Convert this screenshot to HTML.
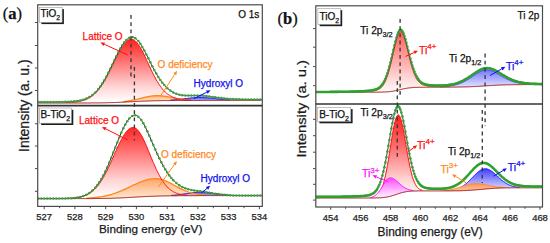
<!DOCTYPE html><html><head><meta charset="utf-8"><style>
html,body{margin:0;padding:0;background:#fff;width:550px;height:243px;overflow:hidden}
svg{display:block;font-family:"Liberation Sans", sans-serif}
</style></head><body>
<svg width="550" height="243" viewBox="0 0 550 243">
<defs><linearGradient id="glatt" gradientUnits="userSpaceOnUse" x1="0" y1="40" x2="0" y2="102"><stop offset="0" stop-color="#ff2424"/><stop offset="0.35" stop-color="#ff7474"/><stop offset="0.75" stop-color="#ffd4d4"/><stop offset="1" stop-color="#ffffff"/></linearGradient><linearGradient id="gdeft" gradientUnits="userSpaceOnUse" x1="0" y1="95" x2="0" y2="102"><stop offset="0" stop-color="#ff8a2a"/><stop offset="1" stop-color="#ffd8b0"/></linearGradient><linearGradient id="ghydt" gradientUnits="userSpaceOnUse" x1="0" y1="97" x2="0" y2="102"><stop offset="0" stop-color="#5050ff"/><stop offset="1" stop-color="#d8d8ff"/></linearGradient><linearGradient id="glatb" gradientUnits="userSpaceOnUse" x1="0" y1="127" x2="0" y2="198"><stop offset="0" stop-color="#ff2424"/><stop offset="0.35" stop-color="#ff7474"/><stop offset="0.75" stop-color="#ffd4d4"/><stop offset="1" stop-color="#ffffff"/></linearGradient><linearGradient id="gdefb" gradientUnits="userSpaceOnUse" x1="0" y1="179" x2="0" y2="198"><stop offset="0" stop-color="#ff8a2a"/><stop offset="1" stop-color="#ffd8b0"/></linearGradient><linearGradient id="ghydb" gradientUnits="userSpaceOnUse" x1="0" y1="192" x2="0" y2="198"><stop offset="0" stop-color="#5050ff"/><stop offset="1" stop-color="#d8d8ff"/></linearGradient><linearGradient id="gb_r1" gradientUnits="userSpaceOnUse" x1="0" y1="30" x2="0" y2="90"><stop offset="0" stop-color="#ff5a5a"/><stop offset="0.5" stop-color="#ffa8a8"/><stop offset="1" stop-color="#fff6f6"/></linearGradient><linearGradient id="gb_b1" gradientUnits="userSpaceOnUse" x1="0" y1="69" x2="0" y2="88"><stop offset="0" stop-color="#7070ff"/><stop offset="1" stop-color="#e8e8ff"/></linearGradient><linearGradient id="gb_r2" gradientUnits="userSpaceOnUse" x1="0" y1="114" x2="0" y2="194"><stop offset="0" stop-color="#ff2020"/><stop offset="0.4" stop-color="#ff6a6a"/><stop offset="0.8" stop-color="#ffd0d0"/><stop offset="1" stop-color="#fff8f8"/></linearGradient><linearGradient id="gb_m2" gradientUnits="userSpaceOnUse" x1="0" y1="175" x2="0" y2="195"><stop offset="0" stop-color="#ff30ff"/><stop offset="1" stop-color="#ffe0ff"/></linearGradient><linearGradient id="gb_b2" gradientUnits="userSpaceOnUse" x1="0" y1="168" x2="0" y2="189"><stop offset="0" stop-color="#3a3aff"/><stop offset="1" stop-color="#d8d8ff"/></linearGradient><linearGradient id="gb_o2" gradientUnits="userSpaceOnUse" x1="0" y1="181" x2="0" y2="189"><stop offset="0" stop-color="#ff8040"/><stop offset="1" stop-color="#ffb890"/></linearGradient></defs>
<clipPath id="cat"><rect x="37.7" y="4.8" width="224.60000000000002" height="100.8"/></clipPath>
<clipPath id="cab"><rect x="37.7" y="105.6" width="224.60000000000002" height="100.80000000000001"/></clipPath>
<g clip-path="url(#cat)"><path d="M38.3,103 39.3,103 40.3,103 41.3,103 42.3,103 43.3,103 44.3,103 45.3,103 46.3,103 47.3,103 48.3,103 49.3,103 50.3,103 51.3,103 52.3,103 53.3,103 54.3,103 55.3,103 56.3,103 57.3,103 58.3,103 59.3,103 60.3,103 61.3,103 62.3,103 63.3,103 64.3,103 65.3,103 66.3,103 67.3,103 68.3,103 69.3,103 70.3,103 71.3,103 72.3,103 73.3,103 74.3,103 75.3,103 76.3,103 77.3,103 78.3,103 79.3,103 80.3,103 81.3,103 82.3,103 83.3,103 84.3,103 85.3,103 86.3,103 87.3,103 88.3,103 89.3,103 90.3,103 91.3,102.9 92.3,102.9 93.3,102.9 94.3,102.9 95.3,102.9 96.3,102.9 97.3,102.9 98.3,102.9 99.3,102.9 100.3,102.9 101.3,102.9 102.3,102.8 103.3,102.8 104.3,102.8 105.3,102.8 106.3,102.8 107.3,102.7 108.3,102.7 109.3,102.7 110.3,102.7 111.3,102.6 112.3,102.6 113.3,102.6 114.3,102.5 115.3,102.5 116.3,102.5 117.3,102.4 118.3,102.4 119.3,102.3 120.3,102.3 121.3,102.2 122.3,102.2 123.3,102.1 124.3,102.1 125.3,102 126.3,102 127.3,101.9 128.3,101.9 129.3,101.8 130.3,101.8 131.3,101.7 132.3,101.7 133.3,101.6 134.3,101.6 135.3,101.5 136.3,101.5 137.3,101.4 138.3,101.4 139.3,101.3 140.3,101.3 141.3,101.2 142.3,101.2 143.3,101.1 144.3,101.1 145.3,101.1 146.3,101 147.3,101 148.3,100.9 149.3,100.9 150.3,100.9 151.3,100.8 152.3,100.8 153.3,100.8 154.3,100.8 155.3,100.7 156.3,100.7 157.3,100.7 158.3,100.6 159.3,100.6 160.3,100.6 161.3,100.5 162.3,100.5 163.3,100.5 164.3,100.4 165.3,100.4 166.3,100.3 167.3,100.3 168.3,100.2 169.3,100.2 170.3,100.1 171.3,100.1 172.3,100 173.3,99.9 174.3,99.8 175.3,99.8 176.3,99.7 177.3,99.6 178.3,99.5 179.3,99.4 180.3,99.2 181.3,99.1 182.3,99 183.3,98.9 184.3,98.8 185.3,98.6 186.3,98.5 187.3,98.4 188.3,98.3 189.3,98.2 190.3,98 191.3,97.9 192.3,97.8 193.3,97.8 194.3,97.7 195.3,97.6 196.3,97.6 197.3,97.5 198.3,97.5 199.3,97.5 200.3,97.5 201.3,97.5 202.3,97.5 203.3,97.5 204.3,97.6 205.3,97.6 206.3,97.7 207.3,97.8 208.3,97.9 209.3,98 210.3,98.1 211.3,98.2 212.3,98.3 213.3,98.4 214.3,98.5 215.3,98.6 216.3,98.8 217.3,98.9 218.3,99 219.3,99.1 220.3,99.2 221.3,99.3 222.3,99.4 223.3,99.5 224.3,99.6 225.3,99.7 226.3,99.8 227.3,99.8 228.3,99.9 229.3,100 230.3,100 231.3,100.1 232.3,100.1 233.3,100.1 234.3,100.2 235.3,100.2 236.3,100.2 237.3,100.3 238.3,100.3 239.3,100.3 240.3,100.3 241.3,100.3 242.3,100.3 243.3,100.4 244.3,100.4 245.3,100.4 246.3,100.4 247.3,100.4 248.3,100.4 249.3,100.4 250.3,100.4 251.3,100.4 252.3,100.4 253.3,100.4 254.3,100.4 255.3,100.4 256.3,100.4 257.3,100.4 258.3,100.4 259.3,100.4 260.3,100.4 261.3,100.4 261.7,100.4 L261.7,100.4 261.3,100.4 260.3,100.4 259.3,100.4 258.3,100.4 257.3,100.4 256.3,100.4 255.3,100.4 254.3,100.4 253.3,100.4 252.3,100.4 251.3,100.4 250.3,100.4 249.3,100.4 248.3,100.4 247.3,100.4 246.3,100.4 245.3,100.4 244.3,100.4 243.3,100.4 242.3,100.4 241.3,100.4 240.3,100.4 239.3,100.4 238.3,100.4 237.3,100.4 236.3,100.4 235.3,100.4 234.3,100.4 233.3,100.4 232.3,100.4 231.3,100.4 230.3,100.4 229.3,100.4 228.3,100.4 227.3,100.4 226.3,100.4 225.3,100.4 224.3,100.4 223.3,100.4 222.3,100.4 221.3,100.4 220.3,100.4 219.3,100.4 218.3,100.4 217.3,100.4 216.3,100.4 215.3,100.4 214.3,100.4 213.3,100.4 212.3,100.4 211.3,100.4 210.3,100.4 209.3,100.4 208.3,100.4 207.3,100.4 206.3,100.4 205.3,100.4 204.3,100.4 203.3,100.4 202.3,100.4 201.3,100.4 200.3,100.5 199.3,100.5 198.3,100.5 197.3,100.5 196.3,100.5 195.3,100.5 194.3,100.5 193.3,100.5 192.3,100.5 191.3,100.5 190.3,100.5 189.3,100.5 188.3,100.5 187.3,100.5 186.3,100.5 185.3,100.5 184.3,100.5 183.3,100.5 182.3,100.5 181.3,100.5 180.3,100.5 179.3,100.5 178.3,100.5 177.3,100.5 176.3,100.5 175.3,100.5 174.3,100.5 173.3,100.5 172.3,100.5 171.3,100.5 170.3,100.6 169.3,100.6 168.3,100.6 167.3,100.6 166.3,100.6 165.3,100.6 164.3,100.6 163.3,100.6 162.3,100.6 161.3,100.6 160.3,100.7 159.3,100.7 158.3,100.7 157.3,100.7 156.3,100.7 155.3,100.8 154.3,100.8 153.3,100.8 152.3,100.8 151.3,100.9 150.3,100.9 149.3,100.9 148.3,101 147.3,101 146.3,101 145.3,101.1 144.3,101.1 143.3,101.1 142.3,101.2 141.3,101.2 140.3,101.3 139.3,101.3 138.3,101.4 137.3,101.4 136.3,101.5 135.3,101.5 134.3,101.6 133.3,101.6 132.3,101.7 131.3,101.7 130.3,101.8 129.3,101.8 128.3,101.9 127.3,101.9 126.3,102 125.3,102 124.3,102.1 123.3,102.1 122.3,102.2 121.3,102.2 120.3,102.3 119.3,102.3 118.3,102.4 117.3,102.4 116.3,102.5 115.3,102.5 114.3,102.5 113.3,102.6 112.3,102.6 111.3,102.6 110.3,102.7 109.3,102.7 108.3,102.7 107.3,102.7 106.3,102.8 105.3,102.8 104.3,102.8 103.3,102.8 102.3,102.8 101.3,102.9 100.3,102.9 99.3,102.9 98.3,102.9 97.3,102.9 96.3,102.9 95.3,102.9 94.3,102.9 93.3,102.9 92.3,102.9 91.3,102.9 90.3,103 89.3,103 88.3,103 87.3,103 86.3,103 85.3,103 84.3,103 83.3,103 82.3,103 81.3,103 80.3,103 79.3,103 78.3,103 77.3,103 76.3,103 75.3,103 74.3,103 73.3,103 72.3,103 71.3,103 70.3,103 69.3,103 68.3,103 67.3,103 66.3,103 65.3,103 64.3,103 63.3,103 62.3,103 61.3,103 60.3,103 59.3,103 58.3,103 57.3,103 56.3,103 55.3,103 54.3,103 53.3,103 52.3,103 51.3,103 50.3,103 49.3,103 48.3,103 47.3,103 46.3,103 45.3,103 44.3,103 43.3,103 42.3,103 41.3,103 40.3,103 39.3,103 38.3,103Z" fill="url(#ghydt)" fill-opacity="1"/><path d="M38.3,102.8 39.3,102.8 40.3,102.8 41.3,102.8 42.3,102.8 43.3,102.8 44.3,102.8 45.3,102.8 46.3,102.8 47.3,102.8 48.3,102.8 49.3,102.8 50.3,102.8 51.3,102.8 52.3,102.8 53.3,102.8 54.3,102.8 55.3,102.8 56.3,102.7 57.3,102.7 58.3,102.7 59.3,102.7 60.3,102.7 61.3,102.7 62.3,102.7 63.3,102.6 64.3,102.6 65.3,102.6 66.3,102.6 67.3,102.5 68.3,102.5 69.3,102.5 70.3,102.4 71.3,102.3 72.3,102.3 73.3,102.2 74.3,102.1 75.3,102 76.3,101.9 77.3,101.8 78.3,101.6 79.3,101.4 80.3,101.2 81.3,101 82.3,100.7 83.3,100.5 84.3,100.1 85.3,99.8 86.3,99.4 87.3,98.9 88.3,98.4 89.3,97.9 90.3,97.3 91.3,96.6 92.3,95.8 93.3,95 94.3,94.2 95.3,93.2 96.3,92.2 97.3,91.1 98.3,89.9 99.3,88.6 100.3,87.3 101.3,85.8 102.3,84.3 103.3,82.7 104.3,81.1 105.3,79.3 106.3,77.5 107.3,75.6 108.3,73.7 109.3,71.7 110.3,69.7 111.3,67.6 112.3,65.5 113.3,63.4 114.3,61.4 115.3,59.3 116.3,57.3 117.3,55.3 118.3,53.3 119.3,51.4 120.3,49.7 121.3,48 122.3,46.4 123.3,44.9 124.3,43.6 125.3,42.5 126.3,41.5 127.3,40.6 128.3,40 129.3,39.5 130.3,39.2 131.3,39.1 132.3,39.3 133.3,39.6 134.3,40.2 135.3,40.9 136.3,41.9 137.3,43.1 138.3,44.4 139.3,45.9 140.3,47.5 141.3,49.3 142.3,51.1 143.3,53.1 144.3,55.1 145.3,57.2 146.3,59.4 147.3,61.6 148.3,63.7 149.3,65.9 150.3,68 151.3,70.2 152.3,72.2 153.3,74.3 154.3,76.2 155.3,78.1 156.3,79.9 157.3,81.6 158.3,83.2 159.3,84.8 160.3,86.2 161.3,87.5 162.3,88.8 163.3,90 164.3,91 165.3,92 166.3,92.9 167.3,93.8 168.3,94.5 169.3,95.2 170.3,95.8 171.3,96.3 172.3,96.8 173.3,97.3 174.3,97.7 175.3,98 176.3,98.3 177.3,98.6 178.3,98.8 179.3,99 180.3,99.2 181.3,99.3 182.3,99.5 183.3,99.6 184.3,99.7 185.3,99.8 186.3,99.8 187.3,99.9 188.3,99.9 189.3,100 190.3,100 191.3,100.1 192.3,100.1 193.3,100.1 194.3,100.1 195.3,100.1 196.3,100.2 197.3,100.2 198.3,100.2 199.3,100.2 200.3,100.2 201.3,100.2 202.3,100.2 203.3,100.2 204.3,100.2 205.3,100.2 206.3,100.2 207.3,100.2 208.3,100.2 209.3,100.2 210.3,100.2 211.3,100.2 212.3,100.2 213.3,100.2 214.3,100.2 215.3,100.3 216.3,100.3 217.3,100.3 218.3,100.3 219.3,100.3 220.3,100.3 221.3,100.3 222.3,100.3 223.3,100.3 224.3,100.3 225.3,100.3 226.3,100.3 227.3,100.3 228.3,100.3 229.3,100.3 230.3,100.3 231.3,100.3 232.3,100.3 233.3,100.3 234.3,100.3 235.3,100.3 236.3,100.3 237.3,100.3 238.3,100.3 239.3,100.3 240.3,100.3 241.3,100.3 242.3,100.3 243.3,100.3 244.3,100.3 245.3,100.3 246.3,100.3 247.3,100.3 248.3,100.3 249.3,100.3 250.3,100.3 251.3,100.3 252.3,100.3 253.3,100.3 254.3,100.3 255.3,100.3 256.3,100.3 257.3,100.3 258.3,100.3 259.3,100.3 260.3,100.3 261.3,100.3 261.7,100.3 L261.7,100.4 261.3,100.4 260.3,100.4 259.3,100.4 258.3,100.4 257.3,100.4 256.3,100.4 255.3,100.4 254.3,100.4 253.3,100.4 252.3,100.4 251.3,100.4 250.3,100.4 249.3,100.4 248.3,100.4 247.3,100.4 246.3,100.4 245.3,100.4 244.3,100.4 243.3,100.4 242.3,100.4 241.3,100.4 240.3,100.4 239.3,100.4 238.3,100.4 237.3,100.4 236.3,100.4 235.3,100.4 234.3,100.4 233.3,100.4 232.3,100.4 231.3,100.4 230.3,100.4 229.3,100.4 228.3,100.4 227.3,100.4 226.3,100.4 225.3,100.4 224.3,100.4 223.3,100.4 222.3,100.4 221.3,100.4 220.3,100.4 219.3,100.4 218.3,100.4 217.3,100.4 216.3,100.4 215.3,100.4 214.3,100.4 213.3,100.4 212.3,100.4 211.3,100.4 210.3,100.4 209.3,100.4 208.3,100.4 207.3,100.4 206.3,100.4 205.3,100.4 204.3,100.4 203.3,100.4 202.3,100.4 201.3,100.4 200.3,100.5 199.3,100.5 198.3,100.5 197.3,100.5 196.3,100.5 195.3,100.5 194.3,100.5 193.3,100.5 192.3,100.5 191.3,100.5 190.3,100.5 189.3,100.5 188.3,100.5 187.3,100.5 186.3,100.5 185.3,100.5 184.3,100.5 183.3,100.5 182.3,100.5 181.3,100.5 180.3,100.5 179.3,100.5 178.3,100.5 177.3,100.5 176.3,100.5 175.3,100.5 174.3,100.5 173.3,100.5 172.3,100.5 171.3,100.5 170.3,100.6 169.3,100.6 168.3,100.6 167.3,100.6 166.3,100.6 165.3,100.6 164.3,100.6 163.3,100.6 162.3,100.6 161.3,100.6 160.3,100.7 159.3,100.7 158.3,100.7 157.3,100.7 156.3,100.7 155.3,100.8 154.3,100.8 153.3,100.8 152.3,100.8 151.3,100.9 150.3,100.9 149.3,100.9 148.3,101 147.3,101 146.3,101 145.3,101.1 144.3,101.1 143.3,101.1 142.3,101.2 141.3,101.2 140.3,101.3 139.3,101.3 138.3,101.4 137.3,101.4 136.3,101.5 135.3,101.5 134.3,101.6 133.3,101.6 132.3,101.7 131.3,101.7 130.3,101.8 129.3,101.8 128.3,101.9 127.3,101.9 126.3,102 125.3,102 124.3,102.1 123.3,102.1 122.3,102.2 121.3,102.2 120.3,102.3 119.3,102.3 118.3,102.4 117.3,102.4 116.3,102.5 115.3,102.5 114.3,102.5 113.3,102.6 112.3,102.6 111.3,102.6 110.3,102.7 109.3,102.7 108.3,102.7 107.3,102.7 106.3,102.8 105.3,102.8 104.3,102.8 103.3,102.8 102.3,102.8 101.3,102.9 100.3,102.9 99.3,102.9 98.3,102.9 97.3,102.9 96.3,102.9 95.3,102.9 94.3,102.9 93.3,102.9 92.3,102.9 91.3,102.9 90.3,103 89.3,103 88.3,103 87.3,103 86.3,103 85.3,103 84.3,103 83.3,103 82.3,103 81.3,103 80.3,103 79.3,103 78.3,103 77.3,103 76.3,103 75.3,103 74.3,103 73.3,103 72.3,103 71.3,103 70.3,103 69.3,103 68.3,103 67.3,103 66.3,103 65.3,103 64.3,103 63.3,103 62.3,103 61.3,103 60.3,103 59.3,103 58.3,103 57.3,103 56.3,103 55.3,103 54.3,103 53.3,103 52.3,103 51.3,103 50.3,103 49.3,103 48.3,103 47.3,103 46.3,103 45.3,103 44.3,103 43.3,103 42.3,103 41.3,103 40.3,103 39.3,103 38.3,103Z" fill="url(#glatt)" fill-opacity="1"/><path d="M38.3,103 39.3,103 40.3,103 41.3,103 42.3,103 43.3,103 44.3,103 45.3,103 46.3,103 47.3,103 48.3,103 49.3,103 50.3,103 51.3,103 52.3,103 53.3,103 54.3,103 55.3,103 56.3,103 57.3,103 58.3,103 59.3,103 60.3,103 61.3,103 62.3,103 63.3,103 64.3,103 65.3,103 66.3,103 67.3,103 68.3,103 69.3,103 70.3,103 71.3,103 72.3,103 73.3,103 74.3,103 75.3,103 76.3,103 77.3,103 78.3,103 79.3,103 80.3,103 81.3,103 82.3,103 83.3,103 84.3,103 85.3,103 86.3,103 87.3,103 88.3,103 89.3,103 90.3,103 91.3,102.9 92.3,102.9 93.3,102.9 94.3,102.9 95.3,102.9 96.3,102.9 97.3,102.9 98.3,102.9 99.3,102.9 100.3,102.9 101.3,102.8 102.3,102.8 103.3,102.8 104.3,102.8 105.3,102.8 106.3,102.7 107.3,102.7 108.3,102.7 109.3,102.7 110.3,102.6 111.3,102.6 112.3,102.5 113.3,102.5 114.3,102.4 115.3,102.4 116.3,102.3 117.3,102.3 118.3,102.2 119.3,102.1 120.3,102 121.3,101.9 122.3,101.8 123.3,101.7 124.3,101.6 125.3,101.5 126.3,101.3 127.3,101.2 128.3,101 129.3,100.9 130.3,100.7 131.3,100.5 132.3,100.3 133.3,100.1 134.3,99.9 135.3,99.7 136.3,99.5 137.3,99.2 138.3,99 139.3,98.7 140.3,98.5 141.3,98.2 142.3,98 143.3,97.7 144.3,97.5 145.3,97.3 146.3,97.1 147.3,96.8 148.3,96.6 149.3,96.5 150.3,96.3 151.3,96.1 152.3,96 153.3,95.9 154.3,95.8 155.3,95.8 156.3,95.7 157.3,95.7 158.3,95.7 159.3,95.8 160.3,95.8 161.3,95.9 162.3,96 163.3,96.1 164.3,96.2 165.3,96.4 166.3,96.5 167.3,96.7 168.3,96.9 169.3,97.1 170.3,97.3 171.3,97.5 172.3,97.7 173.3,97.9 174.3,98.1 175.3,98.2 176.3,98.4 177.3,98.6 178.3,98.8 179.3,98.9 180.3,99.1 181.3,99.2 182.3,99.4 183.3,99.5 184.3,99.6 185.3,99.7 186.3,99.8 187.3,99.9 188.3,100 189.3,100 190.3,100.1 191.3,100.1 192.3,100.2 193.3,100.2 194.3,100.3 195.3,100.3 196.3,100.3 197.3,100.3 198.3,100.4 199.3,100.4 200.3,100.4 201.3,100.4 202.3,100.4 203.3,100.4 204.3,100.4 205.3,100.4 206.3,100.4 207.3,100.4 208.3,100.4 209.3,100.4 210.3,100.4 211.3,100.4 212.3,100.4 213.3,100.4 214.3,100.4 215.3,100.4 216.3,100.4 217.3,100.4 218.3,100.4 219.3,100.4 220.3,100.4 221.3,100.4 222.3,100.4 223.3,100.4 224.3,100.4 225.3,100.4 226.3,100.4 227.3,100.4 228.3,100.4 229.3,100.4 230.3,100.4 231.3,100.4 232.3,100.4 233.3,100.4 234.3,100.4 235.3,100.4 236.3,100.4 237.3,100.4 238.3,100.4 239.3,100.4 240.3,100.4 241.3,100.4 242.3,100.4 243.3,100.4 244.3,100.4 245.3,100.4 246.3,100.4 247.3,100.4 248.3,100.4 249.3,100.4 250.3,100.4 251.3,100.4 252.3,100.4 253.3,100.4 254.3,100.4 255.3,100.4 256.3,100.4 257.3,100.4 258.3,100.4 259.3,100.4 260.3,100.4 261.3,100.4 261.7,100.4 L261.7,100.4 261.3,100.4 260.3,100.4 259.3,100.4 258.3,100.4 257.3,100.4 256.3,100.4 255.3,100.4 254.3,100.4 253.3,100.4 252.3,100.4 251.3,100.4 250.3,100.4 249.3,100.4 248.3,100.4 247.3,100.4 246.3,100.4 245.3,100.4 244.3,100.4 243.3,100.4 242.3,100.4 241.3,100.4 240.3,100.4 239.3,100.4 238.3,100.4 237.3,100.4 236.3,100.4 235.3,100.4 234.3,100.4 233.3,100.4 232.3,100.4 231.3,100.4 230.3,100.4 229.3,100.4 228.3,100.4 227.3,100.4 226.3,100.4 225.3,100.4 224.3,100.4 223.3,100.4 222.3,100.4 221.3,100.4 220.3,100.4 219.3,100.4 218.3,100.4 217.3,100.4 216.3,100.4 215.3,100.4 214.3,100.4 213.3,100.4 212.3,100.4 211.3,100.4 210.3,100.4 209.3,100.4 208.3,100.4 207.3,100.4 206.3,100.4 205.3,100.4 204.3,100.4 203.3,100.4 202.3,100.4 201.3,100.4 200.3,100.5 199.3,100.5 198.3,100.5 197.3,100.5 196.3,100.5 195.3,100.5 194.3,100.5 193.3,100.5 192.3,100.5 191.3,100.5 190.3,100.5 189.3,100.5 188.3,100.5 187.3,100.5 186.3,100.5 185.3,100.5 184.3,100.5 183.3,100.5 182.3,100.5 181.3,100.5 180.3,100.5 179.3,100.5 178.3,100.5 177.3,100.5 176.3,100.5 175.3,100.5 174.3,100.5 173.3,100.5 172.3,100.5 171.3,100.5 170.3,100.6 169.3,100.6 168.3,100.6 167.3,100.6 166.3,100.6 165.3,100.6 164.3,100.6 163.3,100.6 162.3,100.6 161.3,100.6 160.3,100.7 159.3,100.7 158.3,100.7 157.3,100.7 156.3,100.7 155.3,100.8 154.3,100.8 153.3,100.8 152.3,100.8 151.3,100.9 150.3,100.9 149.3,100.9 148.3,101 147.3,101 146.3,101 145.3,101.1 144.3,101.1 143.3,101.1 142.3,101.2 141.3,101.2 140.3,101.3 139.3,101.3 138.3,101.4 137.3,101.4 136.3,101.5 135.3,101.5 134.3,101.6 133.3,101.6 132.3,101.7 131.3,101.7 130.3,101.8 129.3,101.8 128.3,101.9 127.3,101.9 126.3,102 125.3,102 124.3,102.1 123.3,102.1 122.3,102.2 121.3,102.2 120.3,102.3 119.3,102.3 118.3,102.4 117.3,102.4 116.3,102.5 115.3,102.5 114.3,102.5 113.3,102.6 112.3,102.6 111.3,102.6 110.3,102.7 109.3,102.7 108.3,102.7 107.3,102.7 106.3,102.8 105.3,102.8 104.3,102.8 103.3,102.8 102.3,102.8 101.3,102.9 100.3,102.9 99.3,102.9 98.3,102.9 97.3,102.9 96.3,102.9 95.3,102.9 94.3,102.9 93.3,102.9 92.3,102.9 91.3,102.9 90.3,103 89.3,103 88.3,103 87.3,103 86.3,103 85.3,103 84.3,103 83.3,103 82.3,103 81.3,103 80.3,103 79.3,103 78.3,103 77.3,103 76.3,103 75.3,103 74.3,103 73.3,103 72.3,103 71.3,103 70.3,103 69.3,103 68.3,103 67.3,103 66.3,103 65.3,103 64.3,103 63.3,103 62.3,103 61.3,103 60.3,103 59.3,103 58.3,103 57.3,103 56.3,103 55.3,103 54.3,103 53.3,103 52.3,103 51.3,103 50.3,103 49.3,103 48.3,103 47.3,103 46.3,103 45.3,103 44.3,103 43.3,103 42.3,103 41.3,103 40.3,103 39.3,103 38.3,103Z" fill="url(#gdeft)" fill-opacity="0.6"/><path d="M170.3,100.1 171.3,100.1 172.3,100 173.3,99.9 174.3,99.8 175.3,99.8 176.3,99.7 177.3,99.6 178.3,99.5 179.3,99.4 180.3,99.2 181.3,99.1 182.3,99 183.3,98.9 184.3,98.8 185.3,98.6 186.3,98.5 187.3,98.4 188.3,98.3 189.3,98.2 190.3,98 191.3,97.9 192.3,97.8 193.3,97.8 194.3,97.7 195.3,97.6 196.3,97.6 197.3,97.5 198.3,97.5 199.3,97.5 200.3,97.5 201.3,97.5 202.3,97.5 203.3,97.5 204.3,97.6 205.3,97.6 206.3,97.7 207.3,97.8 208.3,97.9 209.3,98 210.3,98.1 211.3,98.2 212.3,98.3 213.3,98.4 214.3,98.5 215.3,98.6 216.3,98.8 217.3,98.9 218.3,99 219.3,99.1 220.3,99.2 221.3,99.3 222.3,99.4 223.3,99.5 224.3,99.6 225.3,99.7 226.3,99.8 227.3,99.8 228.3,99.9 229.3,100" fill="none" stroke="#1010ee" stroke-width="1.0"/><path d="M123.3,101.7 124.3,101.6 125.3,101.5 126.3,101.3 127.3,101.2 128.3,101 129.3,100.9 130.3,100.7 131.3,100.5 132.3,100.3 133.3,100.1 134.3,99.9 135.3,99.7 136.3,99.5 137.3,99.2 138.3,99 139.3,98.7 140.3,98.5 141.3,98.2 142.3,98 143.3,97.7 144.3,97.5 145.3,97.3 146.3,97.1 147.3,96.8 148.3,96.6 149.3,96.5 150.3,96.3 151.3,96.1 152.3,96 153.3,95.9 154.3,95.8 155.3,95.8 156.3,95.7 157.3,95.7 158.3,95.7 159.3,95.8 160.3,95.8 161.3,95.9 162.3,96 163.3,96.1 164.3,96.2 165.3,96.4 166.3,96.5 167.3,96.7 168.3,96.9 169.3,97.1 170.3,97.3 171.3,97.5 172.3,97.7 173.3,97.9 174.3,98.1 175.3,98.2 176.3,98.4 177.3,98.6 178.3,98.8 179.3,98.9 180.3,99.1 181.3,99.2 182.3,99.4 183.3,99.5 184.3,99.6 185.3,99.7 186.3,99.8 187.3,99.9 188.3,100 189.3,100" fill="none" stroke="#ff8a1e" stroke-width="1.4"/><path d="M66.3,102.6 67.3,102.5 68.3,102.5 69.3,102.5 70.3,102.4 71.3,102.3 72.3,102.3 73.3,102.2 74.3,102.1 75.3,102 76.3,101.9 77.3,101.8 78.3,101.6 79.3,101.4 80.3,101.2 81.3,101 82.3,100.7 83.3,100.5 84.3,100.1 85.3,99.8 86.3,99.4 87.3,98.9 88.3,98.4 89.3,97.9 90.3,97.3 91.3,96.6 92.3,95.8 93.3,95 94.3,94.2 95.3,93.2 96.3,92.2 97.3,91.1 98.3,89.9 99.3,88.6 100.3,87.3 101.3,85.8 102.3,84.3 103.3,82.7 104.3,81.1 105.3,79.3 106.3,77.5 107.3,75.6 108.3,73.7 109.3,71.7 110.3,69.7 111.3,67.6 112.3,65.5 113.3,63.4 114.3,61.4 115.3,59.3 116.3,57.3 117.3,55.3 118.3,53.3 119.3,51.4 120.3,49.7 121.3,48 122.3,46.4 123.3,44.9 124.3,43.6 125.3,42.5 126.3,41.5 127.3,40.6 128.3,40 129.3,39.5 130.3,39.2 131.3,39.1 132.3,39.3 133.3,39.6 134.3,40.2 135.3,40.9 136.3,41.9 137.3,43.1 138.3,44.4 139.3,45.9 140.3,47.5 141.3,49.3 142.3,51.1 143.3,53.1 144.3,55.1 145.3,57.2 146.3,59.4 147.3,61.6 148.3,63.7 149.3,65.9 150.3,68 151.3,70.2 152.3,72.2 153.3,74.3 154.3,76.2 155.3,78.1 156.3,79.9 157.3,81.6 158.3,83.2 159.3,84.8 160.3,86.2 161.3,87.5 162.3,88.8 163.3,90 164.3,91 165.3,92 166.3,92.9 167.3,93.8 168.3,94.5 169.3,95.2 170.3,95.8 171.3,96.3 172.3,96.8 173.3,97.3 174.3,97.7 175.3,98 176.3,98.3 177.3,98.6 178.3,98.8 179.3,99 180.3,99.2 181.3,99.3 182.3,99.5 183.3,99.6 184.3,99.7 185.3,99.8 186.3,99.8 187.3,99.9 188.3,99.9 189.3,100 190.3,100 191.3,100.1" fill="none" stroke="#ff1010" stroke-width="1"/><path d="M38.3,103 39.3,103 40.3,103 41.3,103 42.3,103 43.3,103 44.3,103 45.3,103 46.3,103 47.3,103 48.3,103 49.3,103 50.3,103 51.3,103 52.3,103 53.3,103 54.3,103 55.3,103 56.3,103 57.3,103 58.3,103 59.3,103 60.3,103 61.3,103 62.3,103 63.3,103 64.3,103 65.3,103 66.3,103 67.3,103 68.3,103 69.3,103 70.3,103 71.3,103 72.3,103 73.3,103 74.3,103 75.3,103 76.3,103 77.3,103 78.3,103 79.3,103 80.3,103 81.3,103 82.3,103 83.3,103 84.3,103 85.3,103 86.3,103 87.3,103 88.3,103 89.3,103 90.3,103 91.3,102.9 92.3,102.9 93.3,102.9 94.3,102.9 95.3,102.9 96.3,102.9 97.3,102.9 98.3,102.9 99.3,102.9 100.3,102.9 101.3,102.9 102.3,102.8 103.3,102.8 104.3,102.8 105.3,102.8 106.3,102.8 107.3,102.7 108.3,102.7 109.3,102.7 110.3,102.7 111.3,102.6 112.3,102.6 113.3,102.6 114.3,102.5 115.3,102.5 116.3,102.5 117.3,102.4 118.3,102.4 119.3,102.3 120.3,102.3 121.3,102.2 122.3,102.2 123.3,102.1 124.3,102.1 125.3,102 126.3,102 127.3,101.9 128.3,101.9 129.3,101.8 130.3,101.8 131.3,101.7 132.3,101.7 133.3,101.6 134.3,101.6 135.3,101.5 136.3,101.5 137.3,101.4 138.3,101.4 139.3,101.3 140.3,101.3 141.3,101.2 142.3,101.2 143.3,101.1 144.3,101.1 145.3,101.1 146.3,101 147.3,101 148.3,101 149.3,100.9 150.3,100.9 151.3,100.9 152.3,100.8 153.3,100.8 154.3,100.8 155.3,100.8 156.3,100.7 157.3,100.7 158.3,100.7 159.3,100.7 160.3,100.7 161.3,100.6 162.3,100.6 163.3,100.6 164.3,100.6 165.3,100.6 166.3,100.6 167.3,100.6 168.3,100.6 169.3,100.6 170.3,100.6 171.3,100.5 172.3,100.5 173.3,100.5 174.3,100.5 175.3,100.5 176.3,100.5 177.3,100.5 178.3,100.5 179.3,100.5 180.3,100.5 181.3,100.5 182.3,100.5 183.3,100.5 184.3,100.5 185.3,100.5 186.3,100.5 187.3,100.5 188.3,100.5 189.3,100.5 190.3,100.5 191.3,100.5 192.3,100.5 193.3,100.5 194.3,100.5 195.3,100.5 196.3,100.5 197.3,100.5 198.3,100.5 199.3,100.5 200.3,100.5 201.3,100.4 202.3,100.4 203.3,100.4 204.3,100.4 205.3,100.4 206.3,100.4 207.3,100.4 208.3,100.4 209.3,100.4 210.3,100.4 211.3,100.4 212.3,100.4 213.3,100.4 214.3,100.4 215.3,100.4 216.3,100.4 217.3,100.4 218.3,100.4 219.3,100.4 220.3,100.4 221.3,100.4 222.3,100.4 223.3,100.4 224.3,100.4 225.3,100.4 226.3,100.4 227.3,100.4 228.3,100.4 229.3,100.4 230.3,100.4 231.3,100.4 232.3,100.4 233.3,100.4 234.3,100.4 235.3,100.4 236.3,100.4 237.3,100.4 238.3,100.4 239.3,100.4 240.3,100.4 241.3,100.4 242.3,100.4 243.3,100.4 244.3,100.4 245.3,100.4 246.3,100.4 247.3,100.4 248.3,100.4 249.3,100.4 250.3,100.4 251.3,100.4 252.3,100.4 253.3,100.4 254.3,100.4 255.3,100.4 256.3,100.4 257.3,100.4 258.3,100.4 259.3,100.4 260.3,100.4 261.3,100.4 261.7,100.4" fill="none" stroke="#a01818" stroke-width="1"/><path d="M38.3,102 39.3,102 40.3,102 41.3,102 42.3,102 43.3,102 44.3,102 45.3,102 46.3,102 47.3,102 48.3,102 49.3,102 50.3,102 51.3,102 52.3,102 53.3,102 54.3,102 55.3,102 56.3,101.9 57.3,101.9 58.3,101.9 59.3,101.9 60.3,101.9 61.3,101.9 62.3,101.9 63.3,101.8 64.3,101.8 65.3,101.8 66.3,101.8 67.3,101.7 68.3,101.7 69.3,101.7 70.3,101.6 71.3,101.5 72.3,101.5 73.3,101.4 74.3,101.3 75.3,101.2 76.3,101.1 77.3,101 78.3,100.8 79.3,100.6 80.3,100.4 81.3,100.2 82.3,99.9 83.3,99.7 84.3,99.3 85.3,99 86.3,98.6 87.3,98.1 88.3,97.6 89.3,97.1 90.3,96.5 91.3,95.8 92.3,95 93.3,94.2 94.3,93.4 95.3,92.4 96.3,91.4 97.3,90.3 98.3,89.1 99.3,87.8 100.3,86.5 101.3,85 102.3,83.5 103.3,81.9 104.3,80.2 105.3,78.5 106.3,76.7 107.3,74.8 108.3,72.8 109.3,70.8 110.3,68.8 111.3,66.7 112.3,64.7 113.3,62.6 114.3,60.5 115.3,58.4 116.3,56.3 117.3,54.3 118.3,52.3 119.3,50.4 120.3,48.6 121.3,46.8 122.3,45.2 123.3,43.7 124.3,42.3 125.3,41 126.3,40 127.3,39 128.3,38.3 129.3,37.7 130.3,37.3 131.3,37 132.3,37 133.3,37.2 134.3,37.6 135.3,38.2 136.3,39 137.3,39.9 138.3,41 139.3,42.3 140.3,43.7 141.3,45.3 142.3,46.9 143.3,48.7 144.3,50.5 145.3,52.4 146.3,54.4 147.3,56.3 148.3,58.3 149.3,60.3 150.3,62.3 151.3,64.3 152.3,66.3 153.3,68.2 154.3,70.1 155.3,71.9 156.3,73.6 157.3,75.3 158.3,76.9 159.3,78.5 160.3,80 161.3,81.4 162.3,82.7 163.3,84 164.3,85.1 165.3,86.2 166.3,87.3 167.3,88.2 168.3,89.1 169.3,89.9 170.3,90.6 171.3,91.3 172.3,91.9 173.3,92.5 174.3,93 175.3,93.4 176.3,93.8 177.3,94.1 178.3,94.4 179.3,94.7 180.3,94.9 181.3,95.1 182.3,95.2 183.3,95.4 184.3,95.4 185.3,95.5 186.3,95.6 187.3,95.6 188.3,95.6 189.3,95.6 190.3,95.6 191.3,95.6 192.3,95.6 193.3,95.6 194.3,95.6 195.3,95.6 196.3,95.6 197.3,95.6 198.3,95.6 199.3,95.6 200.3,95.7 201.3,95.7 202.3,95.8 203.3,95.8 204.3,95.9 205.3,96 206.3,96.1 207.3,96.2 208.3,96.3 209.3,96.5 210.3,96.6 211.3,96.7 212.3,96.9 213.3,97 214.3,97.1 215.3,97.3 216.3,97.4 217.3,97.6 218.3,97.7 219.3,97.8 220.3,98 221.3,98.1 222.3,98.2 223.3,98.3 224.3,98.4 225.3,98.5 226.3,98.6 227.3,98.7 228.3,98.8 229.3,98.9 230.3,98.9 231.3,99 232.3,99.1 233.3,99.1 234.3,99.2 235.3,99.2 236.3,99.2 237.3,99.3 238.3,99.3 239.3,99.3 240.3,99.3 241.3,99.4 242.3,99.4 243.3,99.4 244.3,99.4 245.3,99.4 246.3,99.4 247.3,99.5 248.3,99.5 249.3,99.5 250.3,99.5 251.3,99.5 252.3,99.5 253.3,99.5 254.3,99.5 255.3,99.5 256.3,99.5 257.3,99.5 258.3,99.5 259.3,99.5 260.3,99.5 261.3,99.5 261.7,99.5" fill="none" stroke="#2a2a2a" stroke-width="1"/><g fill="#40a040"><circle cx="38.3" cy="102" r="1.25"/><circle cx="41.3" cy="102" r="1.25"/><circle cx="44.3" cy="102" r="1.25"/><circle cx="47.3" cy="102" r="1.25"/><circle cx="50.3" cy="102" r="1.25"/><circle cx="53.3" cy="102" r="1.25"/><circle cx="56.3" cy="101.9" r="1.25"/><circle cx="59.3" cy="101.9" r="1.25"/><circle cx="62.3" cy="101.9" r="1.25"/><circle cx="65.3" cy="101.8" r="1.25"/><circle cx="68.3" cy="101.7" r="1.25"/><circle cx="71.3" cy="101.5" r="1.25"/><circle cx="74.3" cy="101.3" r="1.25"/><circle cx="77.3" cy="101" r="1.25"/><circle cx="80.3" cy="100.4" r="1.25"/><circle cx="83.3" cy="99.7" r="1.25"/><circle cx="86.3" cy="98.6" r="1.25"/><circle cx="89.3" cy="97.1" r="1.25"/><circle cx="92.3" cy="95" r="1.25"/><circle cx="95.3" cy="92.4" r="1.25"/><circle cx="98.3" cy="89.1" r="1.25"/><circle cx="100.3" cy="86.5" r="1.25"/><circle cx="102.3" cy="83.5" r="1.25"/><circle cx="104.3" cy="80.2" r="1.25"/><circle cx="106.3" cy="76.7" r="1.25"/><circle cx="108.3" cy="72.8" r="1.25"/><circle cx="110.3" cy="68.8" r="1.25"/><circle cx="112.3" cy="64.7" r="1.25"/><circle cx="114.3" cy="60.5" r="1.25"/><circle cx="116.3" cy="56.3" r="1.25"/><circle cx="118.3" cy="52.3" r="1.25"/><circle cx="120.3" cy="48.6" r="1.25"/><circle cx="122.3" cy="45.2" r="1.25"/><circle cx="124.3" cy="42.3" r="1.25"/><circle cx="126.3" cy="40" r="1.25"/><circle cx="129.3" cy="37.7" r="1.25"/><circle cx="132.3" cy="37" r="1.25"/><circle cx="135.3" cy="38.2" r="1.25"/><circle cx="138.3" cy="41" r="1.25"/><circle cx="140.3" cy="43.7" r="1.25"/><circle cx="142.3" cy="46.9" r="1.25"/><circle cx="144.3" cy="50.5" r="1.25"/><circle cx="146.3" cy="54.4" r="1.25"/><circle cx="148.3" cy="58.3" r="1.25"/><circle cx="150.3" cy="62.3" r="1.25"/><circle cx="152.3" cy="66.3" r="1.25"/><circle cx="154.3" cy="70.1" r="1.25"/><circle cx="156.3" cy="73.6" r="1.25"/><circle cx="158.3" cy="76.9" r="1.25"/><circle cx="160.3" cy="80" r="1.25"/><circle cx="162.3" cy="82.7" r="1.25"/><circle cx="164.3" cy="85.1" r="1.25"/><circle cx="167.3" cy="88.2" r="1.25"/><circle cx="170.3" cy="90.6" r="1.25"/><circle cx="173.3" cy="92.5" r="1.25"/><circle cx="176.3" cy="93.8" r="1.25"/><circle cx="179.3" cy="94.7" r="1.25"/><circle cx="182.3" cy="95.2" r="1.25"/><circle cx="185.3" cy="95.5" r="1.25"/><circle cx="188.3" cy="95.6" r="1.25"/><circle cx="191.3" cy="95.6" r="1.25"/><circle cx="194.3" cy="95.6" r="1.25"/><circle cx="197.3" cy="95.6" r="1.25"/><circle cx="200.3" cy="95.7" r="1.25"/><circle cx="203.3" cy="95.8" r="1.25"/><circle cx="206.3" cy="96.1" r="1.25"/><circle cx="209.3" cy="96.5" r="1.25"/><circle cx="212.3" cy="96.9" r="1.25"/><circle cx="215.3" cy="97.3" r="1.25"/><circle cx="218.3" cy="97.7" r="1.25"/><circle cx="221.3" cy="98.1" r="1.25"/><circle cx="224.3" cy="98.4" r="1.25"/><circle cx="227.3" cy="98.7" r="1.25"/><circle cx="230.3" cy="98.9" r="1.25"/><circle cx="233.3" cy="99.1" r="1.25"/><circle cx="236.3" cy="99.2" r="1.25"/><circle cx="239.3" cy="99.3" r="1.25"/><circle cx="242.3" cy="99.4" r="1.25"/><circle cx="245.3" cy="99.4" r="1.25"/><circle cx="248.3" cy="99.5" r="1.25"/><circle cx="251.3" cy="99.5" r="1.25"/><circle cx="254.3" cy="99.5" r="1.25"/><circle cx="257.3" cy="99.5" r="1.25"/><circle cx="260.3" cy="99.5" r="1.25"/></g></g>
<g clip-path="url(#cab)"><path d="M38.3,198.6 39.3,198.6 40.3,198.6 41.3,198.6 42.3,198.6 43.3,198.6 44.3,198.6 45.3,198.6 46.3,198.6 47.3,198.6 48.3,198.6 49.3,198.6 50.3,198.6 51.3,198.6 52.3,198.6 53.3,198.6 54.3,198.6 55.3,198.6 56.3,198.6 57.3,198.6 58.3,198.6 59.3,198.6 60.3,198.6 61.3,198.6 62.3,198.6 63.3,198.6 64.3,198.6 65.3,198.6 66.3,198.6 67.3,198.6 68.3,198.6 69.3,198.6 70.3,198.6 71.3,198.6 72.3,198.6 73.3,198.6 74.3,198.6 75.3,198.6 76.3,198.6 77.3,198.6 78.3,198.6 79.3,198.6 80.3,198.6 81.3,198.6 82.3,198.6 83.3,198.6 84.3,198.6 85.3,198.6 86.3,198.6 87.3,198.6 88.3,198.6 89.3,198.6 90.3,198.6 91.3,198.6 92.3,198.6 93.3,198.5 94.3,198.5 95.3,198.5 96.3,198.5 97.3,198.5 98.3,198.5 99.3,198.5 100.3,198.5 101.3,198.5 102.3,198.5 103.3,198.4 104.3,198.4 105.3,198.4 106.3,198.4 107.3,198.4 108.3,198.3 109.3,198.3 110.3,198.3 111.3,198.3 112.3,198.2 113.3,198.2 114.3,198.2 115.3,198.1 116.3,198.1 117.3,198 118.3,198 119.3,198 120.3,197.9 121.3,197.9 122.3,197.8 123.3,197.8 124.3,197.7 125.3,197.7 126.3,197.6 127.3,197.6 128.3,197.5 129.3,197.4 130.3,197.4 131.3,197.3 132.3,197.3 133.3,197.2 134.3,197.2 135.3,197.1 136.3,197 137.3,197 138.3,196.9 139.3,196.9 140.3,196.8 141.3,196.8 142.3,196.7 143.3,196.7 144.3,196.6 145.3,196.6 146.3,196.5 147.3,196.5 148.3,196.4 149.3,196.4 150.3,196.3 151.3,196.3 152.3,196.2 153.3,196.2 154.3,196.2 155.3,196.1 156.3,196.1 157.3,196.1 158.3,196 159.3,196 160.3,196 161.3,195.9 162.3,195.9 163.3,195.8 164.3,195.8 165.3,195.8 166.3,195.7 167.3,195.7 168.3,195.6 169.3,195.5 170.3,195.5 171.3,195.4 172.3,195.3 173.3,195.3 174.3,195.2 175.3,195.1 176.3,195 177.3,194.9 178.3,194.8 179.3,194.6 180.3,194.5 181.3,194.4 182.3,194.2 183.3,194.1 184.3,193.9 185.3,193.8 186.3,193.7 187.3,193.5 188.3,193.4 189.3,193.2 190.3,193.1 191.3,193 192.3,192.8 193.3,192.7 194.3,192.6 195.3,192.5 196.3,192.5 197.3,192.4 198.3,192.4 199.3,192.4 200.3,192.3 201.3,192.4 202.3,192.4 203.3,192.4 204.3,192.5 205.3,192.6 206.3,192.6 207.3,192.7 208.3,192.9 209.3,193 210.3,193.1 211.3,193.2 212.3,193.4 213.3,193.5 214.3,193.7 215.3,193.8 216.3,193.9 217.3,194.1 218.3,194.2 219.3,194.3 220.3,194.5 221.3,194.6 222.3,194.7 223.3,194.8 224.3,194.9 225.3,195 226.3,195 227.3,195.1 228.3,195.2 229.3,195.2 230.3,195.3 231.3,195.3 232.3,195.4 233.3,195.4 234.3,195.4 235.3,195.5 236.3,195.5 237.3,195.5 238.3,195.5 239.3,195.5 240.3,195.5 241.3,195.6 242.3,195.6 243.3,195.6 244.3,195.6 245.3,195.6 246.3,195.6 247.3,195.6 248.3,195.6 249.3,195.6 250.3,195.6 251.3,195.6 252.3,195.6 253.3,195.6 254.3,195.6 255.3,195.6 256.3,195.6 257.3,195.6 258.3,195.6 259.3,195.6 260.3,195.6 261.3,195.6 261.7,195.6 L261.7,195.6 261.3,195.6 260.3,195.6 259.3,195.6 258.3,195.6 257.3,195.6 256.3,195.6 255.3,195.6 254.3,195.6 253.3,195.6 252.3,195.6 251.3,195.6 250.3,195.6 249.3,195.6 248.3,195.6 247.3,195.6 246.3,195.6 245.3,195.6 244.3,195.6 243.3,195.6 242.3,195.6 241.3,195.6 240.3,195.6 239.3,195.6 238.3,195.6 237.3,195.6 236.3,195.6 235.3,195.6 234.3,195.6 233.3,195.6 232.3,195.6 231.3,195.6 230.3,195.6 229.3,195.6 228.3,195.6 227.3,195.6 226.3,195.6 225.3,195.6 224.3,195.6 223.3,195.6 222.3,195.6 221.3,195.6 220.3,195.6 219.3,195.6 218.3,195.6 217.3,195.6 216.3,195.6 215.3,195.6 214.3,195.6 213.3,195.6 212.3,195.6 211.3,195.6 210.3,195.6 209.3,195.6 208.3,195.6 207.3,195.6 206.3,195.6 205.3,195.6 204.3,195.6 203.3,195.6 202.3,195.6 201.3,195.6 200.3,195.6 199.3,195.6 198.3,195.7 197.3,195.7 196.3,195.7 195.3,195.7 194.3,195.7 193.3,195.7 192.3,195.7 191.3,195.7 190.3,195.7 189.3,195.7 188.3,195.7 187.3,195.7 186.3,195.7 185.3,195.7 184.3,195.7 183.3,195.7 182.3,195.7 181.3,195.7 180.3,195.7 179.3,195.7 178.3,195.7 177.3,195.8 176.3,195.8 175.3,195.8 174.3,195.8 173.3,195.8 172.3,195.8 171.3,195.8 170.3,195.8 169.3,195.8 168.3,195.9 167.3,195.9 166.3,195.9 165.3,195.9 164.3,195.9 163.3,195.9 162.3,196 161.3,196 160.3,196 159.3,196 158.3,196.1 157.3,196.1 156.3,196.1 155.3,196.2 154.3,196.2 153.3,196.2 152.3,196.3 151.3,196.3 150.3,196.3 149.3,196.4 148.3,196.4 147.3,196.5 146.3,196.5 145.3,196.6 144.3,196.6 143.3,196.7 142.3,196.7 141.3,196.8 140.3,196.8 139.3,196.9 138.3,196.9 137.3,197 136.3,197 135.3,197.1 134.3,197.2 133.3,197.2 132.3,197.3 131.3,197.3 130.3,197.4 129.3,197.4 128.3,197.5 127.3,197.6 126.3,197.6 125.3,197.7 124.3,197.7 123.3,197.8 122.3,197.8 121.3,197.9 120.3,197.9 119.3,198 118.3,198 117.3,198 116.3,198.1 115.3,198.1 114.3,198.2 113.3,198.2 112.3,198.2 111.3,198.3 110.3,198.3 109.3,198.3 108.3,198.3 107.3,198.4 106.3,198.4 105.3,198.4 104.3,198.4 103.3,198.4 102.3,198.5 101.3,198.5 100.3,198.5 99.3,198.5 98.3,198.5 97.3,198.5 96.3,198.5 95.3,198.5 94.3,198.5 93.3,198.5 92.3,198.6 91.3,198.6 90.3,198.6 89.3,198.6 88.3,198.6 87.3,198.6 86.3,198.6 85.3,198.6 84.3,198.6 83.3,198.6 82.3,198.6 81.3,198.6 80.3,198.6 79.3,198.6 78.3,198.6 77.3,198.6 76.3,198.6 75.3,198.6 74.3,198.6 73.3,198.6 72.3,198.6 71.3,198.6 70.3,198.6 69.3,198.6 68.3,198.6 67.3,198.6 66.3,198.6 65.3,198.6 64.3,198.6 63.3,198.6 62.3,198.6 61.3,198.6 60.3,198.6 59.3,198.6 58.3,198.6 57.3,198.6 56.3,198.6 55.3,198.6 54.3,198.6 53.3,198.6 52.3,198.6 51.3,198.6 50.3,198.6 49.3,198.6 48.3,198.6 47.3,198.6 46.3,198.6 45.3,198.6 44.3,198.6 43.3,198.6 42.3,198.6 41.3,198.6 40.3,198.6 39.3,198.6 38.3,198.6Z" fill="url(#ghydb)" fill-opacity="1"/><path d="M38.3,198.6 39.3,198.6 40.3,198.6 41.3,198.6 42.3,198.6 43.3,198.6 44.3,198.6 45.3,198.6 46.3,198.6 47.3,198.6 48.3,198.6 49.3,198.6 50.3,198.6 51.3,198.6 52.3,198.6 53.3,198.6 54.3,198.6 55.3,198.6 56.3,198.6 57.3,198.6 58.3,198.6 59.3,198.6 60.3,198.6 61.3,198.5 62.3,198.5 63.3,198.5 64.3,198.5 65.3,198.5 66.3,198.4 67.3,198.4 68.3,198.4 69.3,198.3 70.3,198.3 71.3,198.2 72.3,198.2 73.3,198.1 74.3,198 75.3,197.9 76.3,197.8 77.3,197.6 78.3,197.5 79.3,197.3 80.3,197.1 81.3,196.8 82.3,196.5 83.3,196.2 84.3,195.9 85.3,195.5 86.3,195.1 87.3,194.6 88.3,194.1 89.3,193.5 90.3,192.8 91.3,192.1 92.3,191.4 93.3,190.5 94.3,189.6 95.3,188.6 96.3,187.5 97.3,186.3 98.3,185.1 99.3,183.7 100.3,182.3 101.3,180.8 102.3,179.2 103.3,177.5 104.3,175.8 105.3,173.9 106.3,172 107.3,170 108.3,167.9 109.3,165.8 110.3,163.7 111.3,161.5 112.3,159.2 113.3,157 114.3,154.7 115.3,152.4 116.3,150.2 117.3,148 118.3,145.8 119.3,143.7 120.3,141.7 121.3,139.7 122.3,137.9 123.3,136.2 124.3,134.6 125.3,133.1 126.3,131.8 127.3,130.6 128.3,129.6 129.3,128.8 130.3,128.2 131.3,127.8 132.3,127.5 133.3,127.4 134.3,127.6 135.3,128.1 136.3,128.7 137.3,129.6 138.3,130.7 139.3,132 140.3,133.5 141.3,135.2 142.3,137 143.3,139 144.3,141.1 145.3,143.3 146.3,145.6 147.3,147.9 148.3,150.4 149.3,152.8 150.3,155.2 151.3,157.7 152.3,160.1 153.3,162.5 154.3,164.8 155.3,167.1 156.3,169.3 157.3,171.4 158.3,173.4 159.3,175.3 160.3,177.1 161.3,178.9 162.3,180.5 163.3,182 164.3,183.4 165.3,184.7 166.3,185.9 167.3,187 168.3,188 169.3,188.9 170.3,189.7 171.3,190.4 172.3,191.1 173.3,191.7 174.3,192.2 175.3,192.7 176.3,193.1 177.3,193.5 178.3,193.8 179.3,194.1 180.3,194.3 181.3,194.5 182.3,194.7 183.3,194.9 184.3,195 185.3,195.1 186.3,195.2 187.3,195.3 188.3,195.3 189.3,195.4 190.3,195.5 191.3,195.5 192.3,195.5 193.3,195.5 194.3,195.6 195.3,195.6 196.3,195.6 197.3,195.6 198.3,195.6 199.3,195.6 200.3,195.6 201.3,195.6 202.3,195.6 203.3,195.6 204.3,195.6 205.3,195.6 206.3,195.6 207.3,195.6 208.3,195.6 209.3,195.6 210.3,195.6 211.3,195.6 212.3,195.6 213.3,195.6 214.3,195.6 215.3,195.6 216.3,195.6 217.3,195.6 218.3,195.6 219.3,195.6 220.3,195.6 221.3,195.6 222.3,195.6 223.3,195.6 224.3,195.6 225.3,195.6 226.3,195.6 227.3,195.6 228.3,195.6 229.3,195.6 230.3,195.6 231.3,195.6 232.3,195.6 233.3,195.6 234.3,195.6 235.3,195.6 236.3,195.6 237.3,195.6 238.3,195.6 239.3,195.6 240.3,195.6 241.3,195.6 242.3,195.6 243.3,195.6 244.3,195.6 245.3,195.6 246.3,195.6 247.3,195.6 248.3,195.6 249.3,195.6 250.3,195.6 251.3,195.6 252.3,195.6 253.3,195.6 254.3,195.6 255.3,195.6 256.3,195.6 257.3,195.6 258.3,195.6 259.3,195.6 260.3,195.6 261.3,195.6 261.7,195.6 L261.7,195.6 261.3,195.6 260.3,195.6 259.3,195.6 258.3,195.6 257.3,195.6 256.3,195.6 255.3,195.6 254.3,195.6 253.3,195.6 252.3,195.6 251.3,195.6 250.3,195.6 249.3,195.6 248.3,195.6 247.3,195.6 246.3,195.6 245.3,195.6 244.3,195.6 243.3,195.6 242.3,195.6 241.3,195.6 240.3,195.6 239.3,195.6 238.3,195.6 237.3,195.6 236.3,195.6 235.3,195.6 234.3,195.6 233.3,195.6 232.3,195.6 231.3,195.6 230.3,195.6 229.3,195.6 228.3,195.6 227.3,195.6 226.3,195.6 225.3,195.6 224.3,195.6 223.3,195.6 222.3,195.6 221.3,195.6 220.3,195.6 219.3,195.6 218.3,195.6 217.3,195.6 216.3,195.6 215.3,195.6 214.3,195.6 213.3,195.6 212.3,195.6 211.3,195.6 210.3,195.6 209.3,195.6 208.3,195.6 207.3,195.6 206.3,195.6 205.3,195.6 204.3,195.6 203.3,195.6 202.3,195.6 201.3,195.6 200.3,195.6 199.3,195.6 198.3,195.7 197.3,195.7 196.3,195.7 195.3,195.7 194.3,195.7 193.3,195.7 192.3,195.7 191.3,195.7 190.3,195.7 189.3,195.7 188.3,195.7 187.3,195.7 186.3,195.7 185.3,195.7 184.3,195.7 183.3,195.7 182.3,195.7 181.3,195.7 180.3,195.7 179.3,195.7 178.3,195.7 177.3,195.8 176.3,195.8 175.3,195.8 174.3,195.8 173.3,195.8 172.3,195.8 171.3,195.8 170.3,195.8 169.3,195.8 168.3,195.9 167.3,195.9 166.3,195.9 165.3,195.9 164.3,195.9 163.3,195.9 162.3,196 161.3,196 160.3,196 159.3,196 158.3,196.1 157.3,196.1 156.3,196.1 155.3,196.2 154.3,196.2 153.3,196.2 152.3,196.3 151.3,196.3 150.3,196.3 149.3,196.4 148.3,196.4 147.3,196.5 146.3,196.5 145.3,196.6 144.3,196.6 143.3,196.7 142.3,196.7 141.3,196.8 140.3,196.8 139.3,196.9 138.3,196.9 137.3,197 136.3,197 135.3,197.1 134.3,197.2 133.3,197.2 132.3,197.3 131.3,197.3 130.3,197.4 129.3,197.4 128.3,197.5 127.3,197.6 126.3,197.6 125.3,197.7 124.3,197.7 123.3,197.8 122.3,197.8 121.3,197.9 120.3,197.9 119.3,198 118.3,198 117.3,198 116.3,198.1 115.3,198.1 114.3,198.2 113.3,198.2 112.3,198.2 111.3,198.3 110.3,198.3 109.3,198.3 108.3,198.3 107.3,198.4 106.3,198.4 105.3,198.4 104.3,198.4 103.3,198.4 102.3,198.5 101.3,198.5 100.3,198.5 99.3,198.5 98.3,198.5 97.3,198.5 96.3,198.5 95.3,198.5 94.3,198.5 93.3,198.5 92.3,198.6 91.3,198.6 90.3,198.6 89.3,198.6 88.3,198.6 87.3,198.6 86.3,198.6 85.3,198.6 84.3,198.6 83.3,198.6 82.3,198.6 81.3,198.6 80.3,198.6 79.3,198.6 78.3,198.6 77.3,198.6 76.3,198.6 75.3,198.6 74.3,198.6 73.3,198.6 72.3,198.6 71.3,198.6 70.3,198.6 69.3,198.6 68.3,198.6 67.3,198.6 66.3,198.6 65.3,198.6 64.3,198.6 63.3,198.6 62.3,198.6 61.3,198.6 60.3,198.6 59.3,198.6 58.3,198.6 57.3,198.6 56.3,198.6 55.3,198.6 54.3,198.6 53.3,198.6 52.3,198.6 51.3,198.6 50.3,198.6 49.3,198.6 48.3,198.6 47.3,198.6 46.3,198.6 45.3,198.6 44.3,198.6 43.3,198.6 42.3,198.6 41.3,198.6 40.3,198.6 39.3,198.6 38.3,198.6Z" fill="url(#glatb)" fill-opacity="1"/><path d="M38.3,198.6 39.3,198.6 40.3,198.6 41.3,198.6 42.3,198.6 43.3,198.6 44.3,198.6 45.3,198.6 46.3,198.6 47.3,198.6 48.3,198.6 49.3,198.6 50.3,198.6 51.3,198.6 52.3,198.6 53.3,198.6 54.3,198.6 55.3,198.6 56.3,198.6 57.3,198.6 58.3,198.6 59.3,198.6 60.3,198.6 61.3,198.6 62.3,198.6 63.3,198.6 64.3,198.6 65.3,198.6 66.3,198.6 67.3,198.6 68.3,198.6 69.3,198.5 70.3,198.5 71.3,198.5 72.3,198.5 73.3,198.5 74.3,198.5 75.3,198.5 76.3,198.5 77.3,198.5 78.3,198.4 79.3,198.4 80.3,198.4 81.3,198.4 82.3,198.3 83.3,198.3 84.3,198.3 85.3,198.2 86.3,198.2 87.3,198.1 88.3,198.1 89.3,198 90.3,197.9 91.3,197.9 92.3,197.8 93.3,197.7 94.3,197.6 95.3,197.5 96.3,197.4 97.3,197.3 98.3,197.2 99.3,197 100.3,196.9 101.3,196.7 102.3,196.6 103.3,196.4 104.3,196.2 105.3,196 106.3,195.8 107.3,195.5 108.3,195.3 109.3,195 110.3,194.7 111.3,194.5 112.3,194.2 113.3,193.8 114.3,193.5 115.3,193.2 116.3,192.8 117.3,192.4 118.3,192 119.3,191.6 120.3,191.2 121.3,190.8 122.3,190.4 123.3,189.9 124.3,189.5 125.3,189 126.3,188.6 127.3,188.1 128.3,187.6 129.3,187.1 130.3,186.6 131.3,186.2 132.3,185.7 133.3,185.2 134.3,184.7 135.3,184.3 136.3,183.8 137.3,183.4 138.3,182.9 139.3,182.5 140.3,182.1 141.3,181.7 142.3,181.3 143.3,181 144.3,180.6 145.3,180.3 146.3,180 147.3,179.8 148.3,179.5 149.3,179.3 150.3,179.1 151.3,179 152.3,178.9 153.3,178.8 154.3,178.7 155.3,178.7 156.3,178.7 157.3,178.7 158.3,178.8 159.3,179 160.3,179.2 161.3,179.4 162.3,179.7 163.3,180 164.3,180.4 165.3,180.8 166.3,181.2 167.3,181.7 168.3,182.2 169.3,182.7 170.3,183.2 171.3,183.7 172.3,184.2 173.3,184.8 174.3,185.3 175.3,185.9 176.3,186.4 177.3,187 178.3,187.5 179.3,188 180.3,188.5 181.3,189 182.3,189.5 183.3,189.9 184.3,190.4 185.3,190.8 186.3,191.2 187.3,191.6 188.3,191.9 189.3,192.3 190.3,192.6 191.3,192.9 192.3,193.1 193.3,193.4 194.3,193.6 195.3,193.8 196.3,194 197.3,194.2 198.3,194.3 199.3,194.5 200.3,194.6 201.3,194.7 202.3,194.8 203.3,194.9 204.3,195 205.3,195.1 206.3,195.2 207.3,195.2 208.3,195.3 209.3,195.3 210.3,195.4 211.3,195.4 212.3,195.4 213.3,195.5 214.3,195.5 215.3,195.5 216.3,195.5 217.3,195.5 218.3,195.5 219.3,195.5 220.3,195.6 221.3,195.6 222.3,195.6 223.3,195.6 224.3,195.6 225.3,195.6 226.3,195.6 227.3,195.6 228.3,195.6 229.3,195.6 230.3,195.6 231.3,195.6 232.3,195.6 233.3,195.6 234.3,195.6 235.3,195.6 236.3,195.6 237.3,195.6 238.3,195.6 239.3,195.6 240.3,195.6 241.3,195.6 242.3,195.6 243.3,195.6 244.3,195.6 245.3,195.6 246.3,195.6 247.3,195.6 248.3,195.6 249.3,195.6 250.3,195.6 251.3,195.6 252.3,195.6 253.3,195.6 254.3,195.6 255.3,195.6 256.3,195.6 257.3,195.6 258.3,195.6 259.3,195.6 260.3,195.6 261.3,195.6 261.7,195.6 L261.7,195.6 261.3,195.6 260.3,195.6 259.3,195.6 258.3,195.6 257.3,195.6 256.3,195.6 255.3,195.6 254.3,195.6 253.3,195.6 252.3,195.6 251.3,195.6 250.3,195.6 249.3,195.6 248.3,195.6 247.3,195.6 246.3,195.6 245.3,195.6 244.3,195.6 243.3,195.6 242.3,195.6 241.3,195.6 240.3,195.6 239.3,195.6 238.3,195.6 237.3,195.6 236.3,195.6 235.3,195.6 234.3,195.6 233.3,195.6 232.3,195.6 231.3,195.6 230.3,195.6 229.3,195.6 228.3,195.6 227.3,195.6 226.3,195.6 225.3,195.6 224.3,195.6 223.3,195.6 222.3,195.6 221.3,195.6 220.3,195.6 219.3,195.6 218.3,195.6 217.3,195.6 216.3,195.6 215.3,195.6 214.3,195.6 213.3,195.6 212.3,195.6 211.3,195.6 210.3,195.6 209.3,195.6 208.3,195.6 207.3,195.6 206.3,195.6 205.3,195.6 204.3,195.6 203.3,195.6 202.3,195.6 201.3,195.6 200.3,195.6 199.3,195.6 198.3,195.7 197.3,195.7 196.3,195.7 195.3,195.7 194.3,195.7 193.3,195.7 192.3,195.7 191.3,195.7 190.3,195.7 189.3,195.7 188.3,195.7 187.3,195.7 186.3,195.7 185.3,195.7 184.3,195.7 183.3,195.7 182.3,195.7 181.3,195.7 180.3,195.7 179.3,195.7 178.3,195.7 177.3,195.8 176.3,195.8 175.3,195.8 174.3,195.8 173.3,195.8 172.3,195.8 171.3,195.8 170.3,195.8 169.3,195.8 168.3,195.9 167.3,195.9 166.3,195.9 165.3,195.9 164.3,195.9 163.3,195.9 162.3,196 161.3,196 160.3,196 159.3,196 158.3,196.1 157.3,196.1 156.3,196.1 155.3,196.2 154.3,196.2 153.3,196.2 152.3,196.3 151.3,196.3 150.3,196.3 149.3,196.4 148.3,196.4 147.3,196.5 146.3,196.5 145.3,196.6 144.3,196.6 143.3,196.7 142.3,196.7 141.3,196.8 140.3,196.8 139.3,196.9 138.3,196.9 137.3,197 136.3,197 135.3,197.1 134.3,197.2 133.3,197.2 132.3,197.3 131.3,197.3 130.3,197.4 129.3,197.4 128.3,197.5 127.3,197.6 126.3,197.6 125.3,197.7 124.3,197.7 123.3,197.8 122.3,197.8 121.3,197.9 120.3,197.9 119.3,198 118.3,198 117.3,198 116.3,198.1 115.3,198.1 114.3,198.2 113.3,198.2 112.3,198.2 111.3,198.3 110.3,198.3 109.3,198.3 108.3,198.3 107.3,198.4 106.3,198.4 105.3,198.4 104.3,198.4 103.3,198.4 102.3,198.5 101.3,198.5 100.3,198.5 99.3,198.5 98.3,198.5 97.3,198.5 96.3,198.5 95.3,198.5 94.3,198.5 93.3,198.5 92.3,198.6 91.3,198.6 90.3,198.6 89.3,198.6 88.3,198.6 87.3,198.6 86.3,198.6 85.3,198.6 84.3,198.6 83.3,198.6 82.3,198.6 81.3,198.6 80.3,198.6 79.3,198.6 78.3,198.6 77.3,198.6 76.3,198.6 75.3,198.6 74.3,198.6 73.3,198.6 72.3,198.6 71.3,198.6 70.3,198.6 69.3,198.6 68.3,198.6 67.3,198.6 66.3,198.6 65.3,198.6 64.3,198.6 63.3,198.6 62.3,198.6 61.3,198.6 60.3,198.6 59.3,198.6 58.3,198.6 57.3,198.6 56.3,198.6 55.3,198.6 54.3,198.6 53.3,198.6 52.3,198.6 51.3,198.6 50.3,198.6 49.3,198.6 48.3,198.6 47.3,198.6 46.3,198.6 45.3,198.6 44.3,198.6 43.3,198.6 42.3,198.6 41.3,198.6 40.3,198.6 39.3,198.6 38.3,198.6Z" fill="url(#gdefb)" fill-opacity="0.6"/><path d="M171.3,195.4 172.3,195.3 173.3,195.3 174.3,195.2 175.3,195.1 176.3,195 177.3,194.9 178.3,194.8 179.3,194.6 180.3,194.5 181.3,194.4 182.3,194.2 183.3,194.1 184.3,193.9 185.3,193.8 186.3,193.7 187.3,193.5 188.3,193.4 189.3,193.2 190.3,193.1 191.3,193 192.3,192.8 193.3,192.7 194.3,192.6 195.3,192.5 196.3,192.5 197.3,192.4 198.3,192.4 199.3,192.4 200.3,192.3 201.3,192.4 202.3,192.4 203.3,192.4 204.3,192.5 205.3,192.6 206.3,192.6 207.3,192.7 208.3,192.9 209.3,193 210.3,193.1 211.3,193.2 212.3,193.4 213.3,193.5 214.3,193.7 215.3,193.8 216.3,193.9 217.3,194.1 218.3,194.2 219.3,194.3 220.3,194.5 221.3,194.6 222.3,194.7 223.3,194.8 224.3,194.9 225.3,195 226.3,195 227.3,195.1 228.3,195.2" fill="none" stroke="#1010ee" stroke-width="1.0"/><path d="M86.3,198.2 87.3,198.1 88.3,198.1 89.3,198 90.3,197.9 91.3,197.9 92.3,197.8 93.3,197.7 94.3,197.6 95.3,197.5 96.3,197.4 97.3,197.3 98.3,197.2 99.3,197 100.3,196.9 101.3,196.7 102.3,196.6 103.3,196.4 104.3,196.2 105.3,196 106.3,195.8 107.3,195.5 108.3,195.3 109.3,195 110.3,194.7 111.3,194.5 112.3,194.2 113.3,193.8 114.3,193.5 115.3,193.2 116.3,192.8 117.3,192.4 118.3,192 119.3,191.6 120.3,191.2 121.3,190.8 122.3,190.4 123.3,189.9 124.3,189.5 125.3,189 126.3,188.6 127.3,188.1 128.3,187.6 129.3,187.1 130.3,186.6 131.3,186.2 132.3,185.7 133.3,185.2 134.3,184.7 135.3,184.3 136.3,183.8 137.3,183.4 138.3,182.9 139.3,182.5 140.3,182.1 141.3,181.7 142.3,181.3 143.3,181 144.3,180.6 145.3,180.3 146.3,180 147.3,179.8 148.3,179.5 149.3,179.3 150.3,179.1 151.3,179 152.3,178.9 153.3,178.8 154.3,178.7 155.3,178.7 156.3,178.7 157.3,178.7 158.3,178.8 159.3,179 160.3,179.2 161.3,179.4 162.3,179.7 163.3,180 164.3,180.4 165.3,180.8 166.3,181.2 167.3,181.7 168.3,182.2 169.3,182.7 170.3,183.2 171.3,183.7 172.3,184.2 173.3,184.8 174.3,185.3 175.3,185.9 176.3,186.4 177.3,187 178.3,187.5 179.3,188 180.3,188.5 181.3,189 182.3,189.5 183.3,189.9 184.3,190.4 185.3,190.8 186.3,191.2 187.3,191.6 188.3,191.9 189.3,192.3 190.3,192.6 191.3,192.9 192.3,193.1 193.3,193.4 194.3,193.6 195.3,193.8 196.3,194 197.3,194.2 198.3,194.3 199.3,194.5 200.3,194.6 201.3,194.7 202.3,194.8 203.3,194.9 204.3,195 205.3,195.1 206.3,195.2" fill="none" stroke="#ff8a1e" stroke-width="1.4"/><path d="M72.3,198.2 73.3,198.1 74.3,198 75.3,197.9 76.3,197.8 77.3,197.6 78.3,197.5 79.3,197.3 80.3,197.1 81.3,196.8 82.3,196.5 83.3,196.2 84.3,195.9 85.3,195.5 86.3,195.1 87.3,194.6 88.3,194.1 89.3,193.5 90.3,192.8 91.3,192.1 92.3,191.4 93.3,190.5 94.3,189.6 95.3,188.6 96.3,187.5 97.3,186.3 98.3,185.1 99.3,183.7 100.3,182.3 101.3,180.8 102.3,179.2 103.3,177.5 104.3,175.8 105.3,173.9 106.3,172 107.3,170 108.3,167.9 109.3,165.8 110.3,163.7 111.3,161.5 112.3,159.2 113.3,157 114.3,154.7 115.3,152.4 116.3,150.2 117.3,148 118.3,145.8 119.3,143.7 120.3,141.7 121.3,139.7 122.3,137.9 123.3,136.2 124.3,134.6 125.3,133.1 126.3,131.8 127.3,130.6 128.3,129.6 129.3,128.8 130.3,128.2 131.3,127.8 132.3,127.5 133.3,127.4 134.3,127.6 135.3,128.1 136.3,128.7 137.3,129.6 138.3,130.7 139.3,132 140.3,133.5 141.3,135.2 142.3,137 143.3,139 144.3,141.1 145.3,143.3 146.3,145.6 147.3,147.9 148.3,150.4 149.3,152.8 150.3,155.2 151.3,157.7 152.3,160.1 153.3,162.5 154.3,164.8 155.3,167.1 156.3,169.3 157.3,171.4 158.3,173.4 159.3,175.3 160.3,177.1 161.3,178.9 162.3,180.5 163.3,182 164.3,183.4 165.3,184.7 166.3,185.9 167.3,187 168.3,188 169.3,188.9 170.3,189.7 171.3,190.4 172.3,191.1 173.3,191.7 174.3,192.2 175.3,192.7 176.3,193.1 177.3,193.5 178.3,193.8 179.3,194.1 180.3,194.3 181.3,194.5 182.3,194.7 183.3,194.9 184.3,195 185.3,195.1 186.3,195.2 187.3,195.3" fill="none" stroke="#ff1010" stroke-width="1"/><path d="M38.3,198.6 39.3,198.6 40.3,198.6 41.3,198.6 42.3,198.6 43.3,198.6 44.3,198.6 45.3,198.6 46.3,198.6 47.3,198.6 48.3,198.6 49.3,198.6 50.3,198.6 51.3,198.6 52.3,198.6 53.3,198.6 54.3,198.6 55.3,198.6 56.3,198.6 57.3,198.6 58.3,198.6 59.3,198.6 60.3,198.6 61.3,198.6 62.3,198.6 63.3,198.6 64.3,198.6 65.3,198.6 66.3,198.6 67.3,198.6 68.3,198.6 69.3,198.6 70.3,198.6 71.3,198.6 72.3,198.6 73.3,198.6 74.3,198.6 75.3,198.6 76.3,198.6 77.3,198.6 78.3,198.6 79.3,198.6 80.3,198.6 81.3,198.6 82.3,198.6 83.3,198.6 84.3,198.6 85.3,198.6 86.3,198.6 87.3,198.6 88.3,198.6 89.3,198.6 90.3,198.6 91.3,198.6 92.3,198.6 93.3,198.5 94.3,198.5 95.3,198.5 96.3,198.5 97.3,198.5 98.3,198.5 99.3,198.5 100.3,198.5 101.3,198.5 102.3,198.5 103.3,198.4 104.3,198.4 105.3,198.4 106.3,198.4 107.3,198.4 108.3,198.3 109.3,198.3 110.3,198.3 111.3,198.3 112.3,198.2 113.3,198.2 114.3,198.2 115.3,198.1 116.3,198.1 117.3,198 118.3,198 119.3,198 120.3,197.9 121.3,197.9 122.3,197.8 123.3,197.8 124.3,197.7 125.3,197.7 126.3,197.6 127.3,197.6 128.3,197.5 129.3,197.4 130.3,197.4 131.3,197.3 132.3,197.3 133.3,197.2 134.3,197.2 135.3,197.1 136.3,197 137.3,197 138.3,196.9 139.3,196.9 140.3,196.8 141.3,196.8 142.3,196.7 143.3,196.7 144.3,196.6 145.3,196.6 146.3,196.5 147.3,196.5 148.3,196.4 149.3,196.4 150.3,196.3 151.3,196.3 152.3,196.3 153.3,196.2 154.3,196.2 155.3,196.2 156.3,196.1 157.3,196.1 158.3,196.1 159.3,196 160.3,196 161.3,196 162.3,196 163.3,195.9 164.3,195.9 165.3,195.9 166.3,195.9 167.3,195.9 168.3,195.9 169.3,195.8 170.3,195.8 171.3,195.8 172.3,195.8 173.3,195.8 174.3,195.8 175.3,195.8 176.3,195.8 177.3,195.8 178.3,195.7 179.3,195.7 180.3,195.7 181.3,195.7 182.3,195.7 183.3,195.7 184.3,195.7 185.3,195.7 186.3,195.7 187.3,195.7 188.3,195.7 189.3,195.7 190.3,195.7 191.3,195.7 192.3,195.7 193.3,195.7 194.3,195.7 195.3,195.7 196.3,195.7 197.3,195.7 198.3,195.7 199.3,195.6 200.3,195.6 201.3,195.6 202.3,195.6 203.3,195.6 204.3,195.6 205.3,195.6 206.3,195.6 207.3,195.6 208.3,195.6 209.3,195.6 210.3,195.6 211.3,195.6 212.3,195.6 213.3,195.6 214.3,195.6 215.3,195.6 216.3,195.6 217.3,195.6 218.3,195.6 219.3,195.6 220.3,195.6 221.3,195.6 222.3,195.6 223.3,195.6 224.3,195.6 225.3,195.6 226.3,195.6 227.3,195.6 228.3,195.6 229.3,195.6 230.3,195.6 231.3,195.6 232.3,195.6 233.3,195.6 234.3,195.6 235.3,195.6 236.3,195.6 237.3,195.6 238.3,195.6 239.3,195.6 240.3,195.6 241.3,195.6 242.3,195.6 243.3,195.6 244.3,195.6 245.3,195.6 246.3,195.6 247.3,195.6 248.3,195.6 249.3,195.6 250.3,195.6 251.3,195.6 252.3,195.6 253.3,195.6 254.3,195.6 255.3,195.6 256.3,195.6 257.3,195.6 258.3,195.6 259.3,195.6 260.3,195.6 261.3,195.6 261.7,195.6" fill="none" stroke="#a01818" stroke-width="1"/><path d="M38.3,198.6 39.3,198.6 40.3,198.6 41.3,198.6 42.3,198.6 43.3,198.6 44.3,198.6 45.3,198.6 46.3,198.6 47.3,198.6 48.3,198.6 49.3,198.6 50.3,198.6 51.3,198.6 52.3,198.6 53.3,198.6 54.3,198.6 55.3,198.6 56.3,198.6 57.3,198.6 58.3,198.6 59.3,198.5 60.3,198.5 61.3,198.5 62.3,198.5 63.3,198.5 64.3,198.5 65.3,198.4 66.3,198.4 67.3,198.4 68.3,198.3 69.3,198.3 70.3,198.2 71.3,198.2 72.3,198.1 73.3,198 74.3,197.9 75.3,197.8 76.3,197.6 77.3,197.5 78.3,197.3 79.3,197.1 80.3,196.9 81.3,196.6 82.3,196.3 83.3,196 84.3,195.6 85.3,195.2 86.3,194.7 87.3,194.2 88.3,193.6 89.3,192.9 90.3,192.2 91.3,191.5 92.3,190.6 93.3,189.7 94.3,188.7 95.3,187.6 96.3,186.4 97.3,185.1 98.3,183.7 99.3,182.3 100.3,180.7 101.3,179.1 102.3,177.3 103.3,175.5 104.3,173.5 105.3,171.5 106.3,169.4 107.3,167.2 108.3,164.9 109.3,162.5 110.3,160.1 111.3,157.7 112.3,155.1 113.3,152.6 114.3,150.1 115.3,147.5 116.3,144.9 117.3,142.4 118.3,139.9 119.3,137.4 120.3,135 121.3,132.7 122.3,130.5 123.3,128.3 124.3,126.3 125.3,124.5 126.3,122.7 127.3,121.2 128.3,119.7 129.3,118.5 130.3,117.5 131.3,116.6 132.3,115.9 133.3,115.4 134.3,115.2 135.3,115.2 136.3,115.5 137.3,116 138.3,116.7 139.3,117.6 140.3,118.8 141.3,120.1 142.3,121.6 143.3,123.3 144.3,125.1 145.3,127.1 146.3,129.1 147.3,131.3 148.3,133.5 149.3,135.7 150.3,138 151.3,140.4 152.3,142.7 153.3,145 154.3,147.3 155.3,149.6 156.3,151.8 157.3,154 158.3,156.1 159.3,158.2 160.3,160.3 161.3,162.2 162.3,164.1 163.3,166 164.3,167.7 165.3,169.4 166.3,171 167.3,172.6 168.3,174 169.3,175.4 170.3,176.7 171.3,177.9 172.3,179.1 173.3,180.2 174.3,181.2 175.3,182.1 176.3,183 177.3,183.8 178.3,184.6 179.3,185.3 180.3,185.9 181.3,186.5 182.3,187 183.3,187.5 184.3,187.9 185.3,188.3 186.3,188.7 187.3,189 188.3,189.3 189.3,189.5 190.3,189.7 191.3,189.9 192.3,190.1 193.3,190.3 194.3,190.5 195.3,190.6 196.3,190.8 197.3,190.9 198.3,191 199.3,191.2 200.3,191.3 201.3,191.4 202.3,191.6 203.3,191.7 204.3,191.9 205.3,192 206.3,192.2 207.3,192.3 208.3,192.5 209.3,192.7 210.3,192.8 211.3,193 212.3,193.2 213.3,193.4 214.3,193.5 215.3,193.7 216.3,193.8 217.3,194 218.3,194.1 219.3,194.3 220.3,194.4 221.3,194.5 222.3,194.6 223.3,194.8 224.3,194.8 225.3,194.9 226.3,195 227.3,195.1 228.3,195.2 229.3,195.2 230.3,195.3 231.3,195.3 232.3,195.4 233.3,195.4 234.3,195.4 235.3,195.5 236.3,195.5 237.3,195.5 238.3,195.5 239.3,195.5 240.3,195.5 241.3,195.6 242.3,195.6 243.3,195.6 244.3,195.6 245.3,195.6 246.3,195.6 247.3,195.6 248.3,195.6 249.3,195.6 250.3,195.6 251.3,195.6 252.3,195.6 253.3,195.6 254.3,195.6 255.3,195.6 256.3,195.6 257.3,195.6 258.3,195.6 259.3,195.6 260.3,195.6 261.3,195.6 261.7,195.6" fill="none" stroke="#2a2a2a" stroke-width="1"/><g fill="#40a040"><circle cx="38.3" cy="198.6" r="1.25"/><circle cx="41.3" cy="198.6" r="1.25"/><circle cx="44.3" cy="198.6" r="1.25"/><circle cx="47.3" cy="198.6" r="1.25"/><circle cx="50.3" cy="198.6" r="1.25"/><circle cx="53.3" cy="198.6" r="1.25"/><circle cx="56.3" cy="198.6" r="1.25"/><circle cx="59.3" cy="198.5" r="1.25"/><circle cx="62.3" cy="198.5" r="1.25"/><circle cx="65.3" cy="198.4" r="1.25"/><circle cx="68.3" cy="198.3" r="1.25"/><circle cx="71.3" cy="198.2" r="1.25"/><circle cx="74.3" cy="197.9" r="1.25"/><circle cx="77.3" cy="197.5" r="1.25"/><circle cx="80.3" cy="196.9" r="1.25"/><circle cx="83.3" cy="196" r="1.25"/><circle cx="86.3" cy="194.7" r="1.25"/><circle cx="89.3" cy="192.9" r="1.25"/><circle cx="92.3" cy="190.6" r="1.25"/><circle cx="95.3" cy="187.6" r="1.25"/><circle cx="97.3" cy="185.1" r="1.25"/><circle cx="99.3" cy="182.3" r="1.25"/><circle cx="101.3" cy="179.1" r="1.25"/><circle cx="103.3" cy="175.5" r="1.25"/><circle cx="105.3" cy="171.5" r="1.25"/><circle cx="107.3" cy="167.2" r="1.25"/><circle cx="109.3" cy="162.5" r="1.25"/><circle cx="111.3" cy="157.7" r="1.25"/><circle cx="113.3" cy="152.6" r="1.25"/><circle cx="115.3" cy="147.5" r="1.25"/><circle cx="117.3" cy="142.4" r="1.25"/><circle cx="119.3" cy="137.4" r="1.25"/><circle cx="121.3" cy="132.7" r="1.25"/><circle cx="123.3" cy="128.3" r="1.25"/><circle cx="125.3" cy="124.5" r="1.25"/><circle cx="127.3" cy="121.2" r="1.25"/><circle cx="129.3" cy="118.5" r="1.25"/><circle cx="132.3" cy="115.9" r="1.25"/><circle cx="135.3" cy="115.2" r="1.25"/><circle cx="138.3" cy="116.7" r="1.25"/><circle cx="141.3" cy="120.1" r="1.25"/><circle cx="143.3" cy="123.3" r="1.25"/><circle cx="145.3" cy="127.1" r="1.25"/><circle cx="147.3" cy="131.3" r="1.25"/><circle cx="149.3" cy="135.7" r="1.25"/><circle cx="151.3" cy="140.4" r="1.25"/><circle cx="153.3" cy="145" r="1.25"/><circle cx="155.3" cy="149.6" r="1.25"/><circle cx="157.3" cy="154" r="1.25"/><circle cx="159.3" cy="158.2" r="1.25"/><circle cx="161.3" cy="162.2" r="1.25"/><circle cx="163.3" cy="166" r="1.25"/><circle cx="165.3" cy="169.4" r="1.25"/><circle cx="167.3" cy="172.6" r="1.25"/><circle cx="169.3" cy="175.4" r="1.25"/><circle cx="171.3" cy="177.9" r="1.25"/><circle cx="173.3" cy="180.2" r="1.25"/><circle cx="176.3" cy="183" r="1.25"/><circle cx="179.3" cy="185.3" r="1.25"/><circle cx="182.3" cy="187" r="1.25"/><circle cx="185.3" cy="188.3" r="1.25"/><circle cx="188.3" cy="189.3" r="1.25"/><circle cx="191.3" cy="189.9" r="1.25"/><circle cx="194.3" cy="190.5" r="1.25"/><circle cx="197.3" cy="190.9" r="1.25"/><circle cx="200.3" cy="191.3" r="1.25"/><circle cx="203.3" cy="191.7" r="1.25"/><circle cx="206.3" cy="192.2" r="1.25"/><circle cx="209.3" cy="192.7" r="1.25"/><circle cx="212.3" cy="193.2" r="1.25"/><circle cx="215.3" cy="193.7" r="1.25"/><circle cx="218.3" cy="194.1" r="1.25"/><circle cx="221.3" cy="194.5" r="1.25"/><circle cx="224.3" cy="194.8" r="1.25"/><circle cx="227.3" cy="195.1" r="1.25"/><circle cx="230.3" cy="195.3" r="1.25"/><circle cx="233.3" cy="195.4" r="1.25"/><circle cx="236.3" cy="195.5" r="1.25"/><circle cx="239.3" cy="195.5" r="1.25"/><circle cx="242.3" cy="195.6" r="1.25"/><circle cx="245.3" cy="195.6" r="1.25"/><circle cx="248.3" cy="195.6" r="1.25"/><circle cx="251.3" cy="195.6" r="1.25"/><circle cx="254.3" cy="195.6" r="1.25"/><circle cx="257.3" cy="195.6" r="1.25"/><circle cx="260.3" cy="195.6" r="1.25"/></g></g>
<line x1="131" y1="15" x2="131" y2="79" stroke="#3a3a3a" stroke-width="1.35" stroke-dasharray="3.8,3.4"/>
<line x1="134.4" y1="67" x2="134.4" y2="140.5" stroke="#3a3a3a" stroke-width="1.35" stroke-dasharray="3.8,3.4"/>
<rect x="37.7" y="4.8" width="224.60000000000002" height="201.6" fill="none" stroke="#4a4a4a" stroke-width="1.2"/>
<line x1="37.7" y1="105.6" x2="262.3" y2="105.6" stroke="#333" stroke-width="1.6"/>
<line x1="34.900000000000006" y1="22.5" x2="37.7" y2="22.5" stroke="#4a4a4a" stroke-width="1"/>
<line x1="34.900000000000006" y1="45.5" x2="37.7" y2="45.5" stroke="#4a4a4a" stroke-width="1"/>
<line x1="34.900000000000006" y1="68" x2="37.7" y2="68" stroke="#4a4a4a" stroke-width="1"/>
<line x1="34.900000000000006" y1="90.5" x2="37.7" y2="90.5" stroke="#4a4a4a" stroke-width="1"/>
<line x1="34.900000000000006" y1="123.8" x2="37.7" y2="123.8" stroke="#4a4a4a" stroke-width="1"/>
<line x1="34.900000000000006" y1="146" x2="37.7" y2="146" stroke="#4a4a4a" stroke-width="1"/>
<line x1="34.900000000000006" y1="168.6" x2="37.7" y2="168.6" stroke="#4a4a4a" stroke-width="1"/>
<line x1="34.900000000000006" y1="191.3" x2="37.7" y2="191.3" stroke="#4a4a4a" stroke-width="1"/>
<line x1="44.2" y1="206.4" x2="44.2" y2="209.2" stroke="#4a4a4a" stroke-width="1"/>
<text x="44.2" y="219.7" font-size="9.4" fill="#222" stroke="#222" stroke-width="0.25" text-anchor="middle" >527</text>
<line x1="59.6" y1="206.4" x2="59.6" y2="208.2" stroke="#4a4a4a" stroke-width="1"/>
<line x1="74.9" y1="206.4" x2="74.9" y2="209.2" stroke="#4a4a4a" stroke-width="1"/>
<text x="74.9" y="219.7" font-size="9.4" fill="#222" stroke="#222" stroke-width="0.25" text-anchor="middle" >528</text>
<line x1="90.3" y1="206.4" x2="90.3" y2="208.2" stroke="#4a4a4a" stroke-width="1"/>
<line x1="105.7" y1="206.4" x2="105.7" y2="209.2" stroke="#4a4a4a" stroke-width="1"/>
<text x="105.7" y="219.7" font-size="9.4" fill="#222" stroke="#222" stroke-width="0.25" text-anchor="middle" >529</text>
<line x1="121" y1="206.4" x2="121" y2="208.2" stroke="#4a4a4a" stroke-width="1"/>
<line x1="136.4" y1="206.4" x2="136.4" y2="209.2" stroke="#4a4a4a" stroke-width="1"/>
<text x="136.4" y="219.7" font-size="9.4" fill="#222" stroke="#222" stroke-width="0.25" text-anchor="middle" >530</text>
<line x1="151.8" y1="206.4" x2="151.8" y2="208.2" stroke="#4a4a4a" stroke-width="1"/>
<line x1="167.2" y1="206.4" x2="167.2" y2="209.2" stroke="#4a4a4a" stroke-width="1"/>
<text x="167.2" y="219.7" font-size="9.4" fill="#222" stroke="#222" stroke-width="0.25" text-anchor="middle" >531</text>
<line x1="182.5" y1="206.4" x2="182.5" y2="208.2" stroke="#4a4a4a" stroke-width="1"/>
<line x1="197.9" y1="206.4" x2="197.9" y2="209.2" stroke="#4a4a4a" stroke-width="1"/>
<text x="197.9" y="219.7" font-size="9.4" fill="#222" stroke="#222" stroke-width="0.25" text-anchor="middle" >532</text>
<line x1="213.3" y1="206.4" x2="213.3" y2="208.2" stroke="#4a4a4a" stroke-width="1"/>
<line x1="228.6" y1="206.4" x2="228.6" y2="209.2" stroke="#4a4a4a" stroke-width="1"/>
<text x="228.6" y="219.7" font-size="9.4" fill="#222" stroke="#222" stroke-width="0.25" text-anchor="middle" >533</text>
<line x1="244" y1="206.4" x2="244" y2="208.2" stroke="#4a4a4a" stroke-width="1"/>
<line x1="259.4" y1="206.4" x2="259.4" y2="209.2" stroke="#4a4a4a" stroke-width="1"/>
<text x="259.4" y="219.7" font-size="9.4" fill="#222" stroke="#222" stroke-width="0.25" text-anchor="middle" >534</text>
<text x="2.8" y="19.2" font-size="16.5" fill="#111" stroke="#111" stroke-width="0.25" text-anchor="start" font-family="Liberation Serif">(<tspan font-weight="bold">a</tspan>)</text>
<rect x="41.4" y="9.1" width="22.5" height="15" fill="#1e1e1e"/><rect x="39.6" y="7.3" width="22.5" height="15" fill="#fff" stroke="#9a9a9a" stroke-width="0.6"/><text x="40.6" y="16.5" font-size="10" fill="#111" stroke="#111" stroke-width="0.25" text-anchor="start" >TiO<tspan font-size="7" dy="3">2</tspan></text>
<rect x="41.099999999999994" y="109.8" width="32.2" height="15.2" fill="#1e1e1e"/><rect x="39.3" y="108" width="32.2" height="15.2" fill="#fff" stroke="#9a9a9a" stroke-width="0.6"/><text x="40.4" y="117.7" font-size="10" fill="#111" stroke="#111" stroke-width="0.25" text-anchor="start" >B-TiO<tspan font-size="7" dy="3">2</tspan></text>
<text x="259.3" y="17.9" font-size="10" fill="#111" stroke="#111" stroke-width="0.25" text-anchor="end" >O 1s</text>
<text x="82.6" y="40" font-size="10" fill="#ff1010" stroke="#ff1010" stroke-width="0.25" text-anchor="start" >Lattice O</text>
<line x1="127.7" y1="55" x2="104.2" y2="44.2" stroke="#ff1010" stroke-width="1.0"/><polygon points="100.4,42.5 105,42.6 103.5,45.9" fill="#ff1010"/>
<text x="157.6" y="68.1" font-size="10" fill="#ff8a1e" stroke="#ff8a1e" stroke-width="0.25" text-anchor="start" >O deficiency</text>
<line x1="160.2" y1="96.4" x2="174.8" y2="74.3" stroke="#ff8a1e" stroke-width="1.0"/><polygon points="177.1,70.8 176.3,75.3 173.3,73.3" fill="#ff8a1e"/>
<text x="193.6" y="87.3" font-size="10" fill="#1010ee" stroke="#1010ee" stroke-width="0.25" text-anchor="start" >Hydroxyl O</text>
<line x1="194" y1="98.6" x2="206.8" y2="92.2" stroke="#1010ee" stroke-width="1.0"/><polygon points="210.6,90.3 207.6,93.8 206,90.6" fill="#1010ee"/>
<text x="79" y="124.2" font-size="10" fill="#ff1010" stroke="#ff1010" stroke-width="0.25" text-anchor="start" >Lattice O</text>
<line x1="127.9" y1="140" x2="105.7" y2="128.9" stroke="#ff1010" stroke-width="1.0"/><polygon points="101.9,127 106.5,127.3 104.9,130.5" fill="#ff1010"/>
<text x="161" y="157.5" font-size="10" fill="#ff8a1e" stroke="#ff8a1e" stroke-width="0.25" text-anchor="start" >O deficiency</text>
<line x1="158.4" y1="187" x2="174.5" y2="164.4" stroke="#ff8a1e" stroke-width="1.0"/><polygon points="176.9,161 175.9,165.5 173,163.4" fill="#ff8a1e"/>
<text x="200.6" y="182.1" font-size="10" fill="#1010ee" stroke="#1010ee" stroke-width="0.25" text-anchor="start" >Hydroxyl O</text>
<line x1="201.6" y1="193" x2="207" y2="188.4" stroke="#1010ee" stroke-width="1.0"/><polygon points="210.2,185.7 208.2,189.8 205.8,187" fill="#1010ee"/>
<text x="99.0" y="232.6" font-size="11.7" fill="#1a1a1a" stroke="#1a1a1a" stroke-width="0.25" text-anchor="start" >Binding energy (eV)</text>
<text transform="translate(28.8,152) rotate(-90)" font-size="14" fill="#1a1a1a" stroke="#1a1a1a" stroke-width="0.25">Intensity (a. u.)</text>
<line x1="313.0" y1="28.6" x2="315.8" y2="28.6" stroke="#4a4a4a" stroke-width="1"/>
<line x1="313.0" y1="47.2" x2="315.8" y2="47.2" stroke="#4a4a4a" stroke-width="1"/>
<line x1="313.0" y1="66.6" x2="315.8" y2="66.6" stroke="#4a4a4a" stroke-width="1"/>
<line x1="313.0" y1="85.7" x2="315.8" y2="85.7" stroke="#4a4a4a" stroke-width="1"/>
<line x1="313.0" y1="119.3" x2="315.8" y2="119.3" stroke="#4a4a4a" stroke-width="1"/>
<line x1="313.0" y1="135.7" x2="315.8" y2="135.7" stroke="#4a4a4a" stroke-width="1"/>
<line x1="313.0" y1="152.2" x2="315.8" y2="152.2" stroke="#4a4a4a" stroke-width="1"/>
<line x1="313.0" y1="168.6" x2="315.8" y2="168.6" stroke="#4a4a4a" stroke-width="1"/>
<line x1="313.0" y1="184.3" x2="315.8" y2="184.3" stroke="#4a4a4a" stroke-width="1"/>
<line x1="313.0" y1="200.1" x2="315.8" y2="200.1" stroke="#4a4a4a" stroke-width="1"/>
<line x1="330.7" y1="207.0" x2="330.7" y2="209.8" stroke="#4a4a4a" stroke-width="1"/>
<text x="330.7" y="220.5" font-size="9.4" fill="#222" stroke="#222" stroke-width="0.25" text-anchor="middle" >454</text>
<line x1="345.6" y1="207.0" x2="345.6" y2="208.8" stroke="#4a4a4a" stroke-width="1"/>
<line x1="360.6" y1="207.0" x2="360.6" y2="209.8" stroke="#4a4a4a" stroke-width="1"/>
<text x="360.6" y="220.5" font-size="9.4" fill="#222" stroke="#222" stroke-width="0.25" text-anchor="middle" >456</text>
<line x1="375.5" y1="207.0" x2="375.5" y2="208.8" stroke="#4a4a4a" stroke-width="1"/>
<line x1="390.5" y1="207.0" x2="390.5" y2="209.8" stroke="#4a4a4a" stroke-width="1"/>
<text x="390.5" y="220.5" font-size="9.4" fill="#222" stroke="#222" stroke-width="0.25" text-anchor="middle" >458</text>
<line x1="405.4" y1="207.0" x2="405.4" y2="208.8" stroke="#4a4a4a" stroke-width="1"/>
<line x1="420.4" y1="207.0" x2="420.4" y2="209.8" stroke="#4a4a4a" stroke-width="1"/>
<text x="420.4" y="220.5" font-size="9.4" fill="#222" stroke="#222" stroke-width="0.25" text-anchor="middle" >460</text>
<line x1="435.3" y1="207.0" x2="435.3" y2="208.8" stroke="#4a4a4a" stroke-width="1"/>
<line x1="450.3" y1="207.0" x2="450.3" y2="209.8" stroke="#4a4a4a" stroke-width="1"/>
<text x="450.3" y="220.5" font-size="9.4" fill="#222" stroke="#222" stroke-width="0.25" text-anchor="middle" >462</text>
<line x1="465.2" y1="207.0" x2="465.2" y2="208.8" stroke="#4a4a4a" stroke-width="1"/>
<line x1="480.2" y1="207.0" x2="480.2" y2="209.8" stroke="#4a4a4a" stroke-width="1"/>
<text x="480.2" y="220.5" font-size="9.4" fill="#222" stroke="#222" stroke-width="0.25" text-anchor="middle" >464</text>
<line x1="495.1" y1="207.0" x2="495.1" y2="208.8" stroke="#4a4a4a" stroke-width="1"/>
<line x1="510.1" y1="207.0" x2="510.1" y2="209.8" stroke="#4a4a4a" stroke-width="1"/>
<text x="510.1" y="220.5" font-size="9.4" fill="#222" stroke="#222" stroke-width="0.25" text-anchor="middle" >466</text>
<line x1="525" y1="207.0" x2="525" y2="208.8" stroke="#4a4a4a" stroke-width="1"/>
<line x1="540" y1="207.0" x2="540" y2="209.8" stroke="#4a4a4a" stroke-width="1"/>
<text x="540" y="220.5" font-size="9.4" fill="#222" stroke="#222" stroke-width="0.25" text-anchor="middle" >468</text>
<text x="277.5" y="23.6" font-size="16.5" fill="#111" stroke="#111" stroke-width="0.25" text-anchor="start" font-family="Liberation Serif">(<tspan font-weight="bold">b</tspan>)</text>
<text x="539.3" y="19.1" font-size="10" fill="#111" stroke="#111" stroke-width="0.25" text-anchor="end" >Ti 2p</text>
<text x="377.6" y="235.9" font-size="11.9" fill="#1a1a1a" stroke="#1a1a1a" stroke-width="0.25" text-anchor="start" >Binding energy (eV)</text>
<text transform="translate(305.6,157.6) rotate(-90) scale(1.055,0.88)" font-size="14" fill="#1a1a1a" stroke="#1a1a1a" stroke-width="0.25">Intensity (a. u.)</text>
<clipPath id="cbt"><rect x="315.8" y="5.8" width="226.7" height="98.2"/></clipPath>
<clipPath id="cbb"><rect x="315.8" y="104.0" width="226.7" height="103.0"/></clipPath>
<g clip-path="url(#cbt)"><path d="M340.4,92 341.4,92 342.4,92 343.4,92 344.4,92 345.4,91.9 346.4,91.9 347.4,91.9 348.4,91.9 349.4,91.9 350.4,91.9 351.4,91.9 352.4,91.8 353.4,91.8 354.4,91.8 355.4,91.8 356.4,91.8 357.4,91.7 358.4,91.7 359.4,91.7 360.4,91.6 361.4,91.6 362.4,91.6 363.4,91.5 364.4,91.5 365.4,91.5 366.4,91.4 367.4,91.4 368.4,91.3 369.4,91.2 370.4,91.1 371.4,91.1 372.4,91 373.4,90.8 374.4,90.7 375.4,90.4 376.4,90.2 377.4,89.9 378.4,89.4 379.4,88.9 380.4,88.2 381.4,87.3 382.4,86.2 383.4,84.8 384.4,83.1 385.4,81.1 386.4,78.7 387.4,75.9 388.4,72.8 389.4,69.2 390.4,65.3 391.4,61.2 392.4,56.8 393.4,52.4 394.4,48 395.4,43.8 396.4,39.9 397.4,36.6 398.4,34.1 399.4,32.3 400.4,31.6 401.4,31.9 402.4,33.1 403.4,35.2 404.4,38.1 405.4,41.5 406.4,45.3 407.4,49.4 408.4,53.6 409.4,57.6 410.4,61.6 411.4,65.2 412.4,68.6 413.4,71.6 414.4,74.3 415.4,76.6 416.4,78.5 417.4,80.1 418.4,81.4 419.4,82.5 420.4,83.4 421.4,84 422.4,84.6 423.4,85 424.4,85.3 425.4,85.5 426.4,85.7 427.4,85.9 428.4,86 429.4,86.1 430.4,86.2 431.4,86.2 432.4,86.3 433.4,86.3 434.4,86.4 435.4,86.4 436.4,86.5 437.4,86.5 438.4,86.5 439.4,86.5 440.4,86.6 441.4,86.6 442.4,86.6 443.4,86.6 444.4,86.7 445.4,86.7 446.4,86.7 447.4,86.7 448.4,86.7 449.4,86.7 450.4,86.7 451.4,86.7 452.4,86.7 453.4,86.7 454.4,86.7 455.4,86.7 456.4,86.7 457.4,86.7 458.4,86.7 459.4,86.7 460.4,86.7 461.4,86.7 462.4,86.7 463.4,86.7 464.4,86.7 465.4,86.7 466.4,86.6 467.4,86.6 468.4,86.6 469.4,86.6 L469.4,86.8 468.4,86.8 467.4,86.8 466.4,86.9 465.4,86.9 464.4,86.9 463.4,86.9 462.4,87 461.4,87 460.4,87 459.4,87 458.4,87 457.4,87 456.4,87.1 455.4,87.1 454.4,87.1 453.4,87.1 452.4,87.1 451.4,87.1 450.4,87.1 449.4,87.1 448.4,87.1 447.4,87.1 446.4,87.1 445.4,87.1 444.4,87.1 443.4,87.2 442.4,87.2 441.4,87.2 440.4,87.2 439.4,87.2 438.4,87.2 437.4,87.2 436.4,87.2 435.4,87.2 434.4,87.2 433.4,87.2 432.4,87.2 431.4,87.2 430.4,87.2 429.4,87.2 428.4,87.2 427.4,87.2 426.4,87.2 425.4,87.2 424.4,87.3 423.4,87.3 422.4,87.3 421.4,87.3 420.4,87.3 419.4,87.3 418.4,87.3 417.4,87.4 416.4,87.4 415.4,87.4 414.4,87.5 413.4,87.5 412.4,87.6 411.4,87.7 410.4,87.8 409.4,87.9 408.4,88 407.4,88.2 406.4,88.3 405.4,88.5 404.4,88.7 403.4,88.9 402.4,89.1 401.4,89.4 400.4,89.6 399.4,89.8 398.4,90.1 397.4,90.3 396.4,90.5 395.4,90.7 394.4,90.9 393.4,91.1 392.4,91.3 391.4,91.4 390.4,91.5 389.4,91.7 388.4,91.8 387.4,91.8 386.4,91.9 385.4,92 384.4,92 383.4,92 382.4,92.1 381.4,92.1 380.4,92.1 379.4,92.1 378.4,92.1 377.4,92.2 376.4,92.2 375.4,92.2 374.4,92.2 373.4,92.2 372.4,92.2 371.4,92.2 370.4,92.2 369.4,92.2 368.4,92.2 367.4,92.2 366.4,92.2 365.4,92.2 364.4,92.2 363.4,92.2 362.4,92.2 361.4,92.2 360.4,92.2 359.4,92.2 358.4,92.2 357.4,92.2 356.4,92.2 355.4,92.2 354.4,92.3 353.4,92.3 352.4,92.3 351.4,92.3 350.4,92.3 349.4,92.3 348.4,92.3 347.4,92.3 346.4,92.3 345.4,92.3 344.4,92.3 343.4,92.3 342.4,92.3 341.4,92.3 340.4,92.3Z" fill="url(#gb_r1)"/><path d="M351.4,91.9 352.4,91.8 353.4,91.8 354.4,91.8 355.4,91.8 356.4,91.8 357.4,91.7 358.4,91.7 359.4,91.7 360.4,91.6 361.4,91.6 362.4,91.6 363.4,91.5 364.4,91.5 365.4,91.5 366.4,91.4 367.4,91.4 368.4,91.3 369.4,91.2 370.4,91.1 371.4,91.1 372.4,91 373.4,90.8 374.4,90.7 375.4,90.4 376.4,90.2 377.4,89.9 378.4,89.4 379.4,88.9 380.4,88.2 381.4,87.3 382.4,86.2 383.4,84.8 384.4,83.1 385.4,81.1 386.4,78.7 387.4,75.9 388.4,72.8 389.4,69.2 390.4,65.3 391.4,61.2 392.4,56.8 393.4,52.4 394.4,48 395.4,43.8 396.4,39.9 397.4,36.6 398.4,34.1 399.4,32.3 400.4,31.6 401.4,31.9 402.4,33.1 403.4,35.2 404.4,38.1 405.4,41.5 406.4,45.3 407.4,49.4 408.4,53.6 409.4,57.6 410.4,61.6 411.4,65.2 412.4,68.6 413.4,71.6 414.4,74.3 415.4,76.6 416.4,78.5 417.4,80.1 418.4,81.4 419.4,82.5 420.4,83.4 421.4,84 422.4,84.6 423.4,85 424.4,85.3 425.4,85.5 426.4,85.7 427.4,85.9 428.4,86 429.4,86.1 430.4,86.2 431.4,86.2 432.4,86.3 433.4,86.3 434.4,86.4 435.4,86.4 436.4,86.5 437.4,86.5 438.4,86.5 439.4,86.5 440.4,86.6 441.4,86.6 442.4,86.6 443.4,86.6 444.4,86.7 445.4,86.7 446.4,86.7 447.4,86.7 448.4,86.7 449.4,86.7" fill="none" stroke="#ff2020" stroke-width="1"/><path d="M440.4,86.7 441.4,86.6 442.4,86.6 443.4,86.5 444.4,86.5 445.4,86.4 446.4,86.3 447.4,86.2 448.4,86.1 449.4,86 450.4,85.9 451.4,85.7 452.4,85.6 453.4,85.4 454.4,85.2 455.4,84.9 456.4,84.7 457.4,84.4 458.4,84.1 459.4,83.7 460.4,83.3 461.4,82.9 462.4,82.5 463.4,82 464.4,81.5 465.4,80.9 466.4,80.4 467.4,79.7 468.4,79.1 469.4,78.5 470.4,77.8 471.4,77.1 472.4,76.4 473.4,75.8 474.4,75.1 475.4,74.4 476.4,73.7 477.4,73.1 478.4,72.5 479.4,71.9 480.4,71.4 481.4,71 482.4,70.6 483.4,70.3 484.4,70.1 485.4,69.9 486.4,69.8 487.4,69.8 488.4,69.9 489.4,70.1 490.4,70.3 491.4,70.6 492.4,71 493.4,71.4 494.4,71.9 495.4,72.4 496.4,73 497.4,73.6 498.4,74.1 499.4,74.7 500.4,75.3 501.4,75.9 502.4,76.5 503.4,77.1 504.4,77.7 505.4,78.2 506.4,78.8 507.4,79.3 508.4,79.7 509.4,80.2 510.4,80.6 511.4,81 512.4,81.3 513.4,81.7 514.4,82 515.4,82.3 516.4,82.5 517.4,82.7 518.4,82.9 519.4,83.1 520.4,83.3 521.4,83.4 522.4,83.5 523.4,83.6 524.4,83.7 525.4,83.8 526.4,83.9 527.4,83.9 528.4,84 529.4,84 530.4,84.1 531.4,84.1 532.4,84.2 533.4,84.2 534.4,84.2 535.4,84.2 536.4,84.2 537.4,84.3 538.4,84.3 539.4,84.3 L539.4,84.6 538.4,84.6 537.4,84.6 536.4,84.6 535.4,84.6 534.4,84.6 533.4,84.6 532.4,84.6 531.4,84.6 530.4,84.6 529.4,84.6 528.4,84.6 527.4,84.6 526.4,84.6 525.4,84.6 524.4,84.6 523.4,84.6 522.4,84.6 521.4,84.7 520.4,84.7 519.4,84.7 518.4,84.7 517.4,84.7 516.4,84.7 515.4,84.7 514.4,84.7 513.4,84.7 512.4,84.7 511.4,84.7 510.4,84.8 509.4,84.8 508.4,84.8 507.4,84.8 506.4,84.8 505.4,84.9 504.4,84.9 503.4,84.9 502.4,85 501.4,85 500.4,85 499.4,85.1 498.4,85.1 497.4,85.2 496.4,85.2 495.4,85.3 494.4,85.3 493.4,85.4 492.4,85.4 491.4,85.5 490.4,85.6 489.4,85.6 488.4,85.7 487.4,85.7 486.4,85.8 485.4,85.9 484.4,85.9 483.4,86 482.4,86.1 481.4,86.1 480.4,86.2 479.4,86.3 478.4,86.3 477.4,86.4 476.4,86.4 475.4,86.5 474.4,86.6 473.4,86.6 472.4,86.6 471.4,86.7 470.4,86.7 469.4,86.8 468.4,86.8 467.4,86.8 466.4,86.9 465.4,86.9 464.4,86.9 463.4,86.9 462.4,87 461.4,87 460.4,87 459.4,87 458.4,87 457.4,87 456.4,87.1 455.4,87.1 454.4,87.1 453.4,87.1 452.4,87.1 451.4,87.1 450.4,87.1 449.4,87.1 448.4,87.1 447.4,87.1 446.4,87.1 445.4,87.1 444.4,87.1 443.4,87.2 442.4,87.2 441.4,87.2 440.4,87.2Z" fill="url(#gb_b1)"/><path d="M440.4,86.7 441.4,86.6 442.4,86.6 443.4,86.5 444.4,86.5 445.4,86.4 446.4,86.3 447.4,86.2 448.4,86.1 449.4,86 450.4,85.9 451.4,85.7 452.4,85.6 453.4,85.4 454.4,85.2 455.4,84.9 456.4,84.7 457.4,84.4 458.4,84.1 459.4,83.7 460.4,83.3 461.4,82.9 462.4,82.5 463.4,82 464.4,81.5 465.4,80.9 466.4,80.4 467.4,79.7 468.4,79.1 469.4,78.5 470.4,77.8 471.4,77.1 472.4,76.4 473.4,75.8 474.4,75.1 475.4,74.4 476.4,73.7 477.4,73.1 478.4,72.5 479.4,71.9 480.4,71.4 481.4,71 482.4,70.6 483.4,70.3 484.4,70.1 485.4,69.9 486.4,69.8 487.4,69.8 488.4,69.9 489.4,70.1 490.4,70.3 491.4,70.6 492.4,71 493.4,71.4 494.4,71.9 495.4,72.4 496.4,73 497.4,73.6 498.4,74.1 499.4,74.7 500.4,75.3 501.4,75.9 502.4,76.5 503.4,77.1 504.4,77.7 505.4,78.2 506.4,78.8 507.4,79.3 508.4,79.7 509.4,80.2 510.4,80.6 511.4,81 512.4,81.3 513.4,81.7 514.4,82 515.4,82.3 516.4,82.5 517.4,82.7 518.4,82.9 519.4,83.1 520.4,83.3 521.4,83.4 522.4,83.5 523.4,83.6 524.4,83.7 525.4,83.8 526.4,83.9 527.4,83.9 528.4,84 529.4,84 530.4,84.1 531.4,84.1 532.4,84.2 533.4,84.2 534.4,84.2" fill="none" stroke="#3030ff" stroke-width="1"/><path d="M316.4,92.3 317.4,92.3 318.4,92.3 319.4,92.3 320.4,92.3 321.4,92.3 322.4,92.3 323.4,92.3 324.4,92.3 325.4,92.3 326.4,92.3 327.4,92.3 328.4,92.3 329.4,92.3 330.4,92.3 331.4,92.3 332.4,92.3 333.4,92.3 334.4,92.3 335.4,92.3 336.4,92.3 337.4,92.3 338.4,92.3 339.4,92.3 340.4,92.3 341.4,92.3 342.4,92.3 343.4,92.3 344.4,92.3 345.4,92.3 346.4,92.3 347.4,92.3 348.4,92.3 349.4,92.3 350.4,92.3 351.4,92.3 352.4,92.3 353.4,92.3 354.4,92.3 355.4,92.2 356.4,92.2 357.4,92.2 358.4,92.2 359.4,92.2 360.4,92.2 361.4,92.2 362.4,92.2 363.4,92.2 364.4,92.2 365.4,92.2 366.4,92.2 367.4,92.2 368.4,92.2 369.4,92.2 370.4,92.2 371.4,92.2 372.4,92.2 373.4,92.2 374.4,92.2 375.4,92.2 376.4,92.2 377.4,92.2 378.4,92.1 379.4,92.1 380.4,92.1 381.4,92.1 382.4,92.1 383.4,92 384.4,92 385.4,92 386.4,91.9 387.4,91.8 388.4,91.8 389.4,91.7 390.4,91.5 391.4,91.4 392.4,91.3 393.4,91.1 394.4,90.9 395.4,90.7 396.4,90.5 397.4,90.3 398.4,90.1 399.4,89.8 400.4,89.6 401.4,89.4 402.4,89.1 403.4,88.9 404.4,88.7 405.4,88.5 406.4,88.3 407.4,88.2 408.4,88 409.4,87.9 410.4,87.8 411.4,87.7 412.4,87.6 413.4,87.5 414.4,87.5 415.4,87.4 416.4,87.4 417.4,87.4 418.4,87.3 419.4,87.3 420.4,87.3 421.4,87.3 422.4,87.3 423.4,87.3 424.4,87.3 425.4,87.2 426.4,87.2 427.4,87.2 428.4,87.2 429.4,87.2 430.4,87.2 431.4,87.2 432.4,87.2 433.4,87.2 434.4,87.2 435.4,87.2 436.4,87.2 437.4,87.2 438.4,87.2 439.4,87.2 440.4,87.2 441.4,87.2 442.4,87.2 443.4,87.2 444.4,87.1 445.4,87.1 446.4,87.1 447.4,87.1 448.4,87.1 449.4,87.1 450.4,87.1 451.4,87.1 452.4,87.1 453.4,87.1 454.4,87.1 455.4,87.1 456.4,87.1 457.4,87 458.4,87 459.4,87 460.4,87 461.4,87 462.4,87 463.4,86.9 464.4,86.9 465.4,86.9 466.4,86.9 467.4,86.8 468.4,86.8 469.4,86.8 470.4,86.7 471.4,86.7 472.4,86.6 473.4,86.6 474.4,86.6 475.4,86.5 476.4,86.4 477.4,86.4 478.4,86.3 479.4,86.3 480.4,86.2 481.4,86.1 482.4,86.1 483.4,86 484.4,85.9 485.4,85.9 486.4,85.8 487.4,85.7 488.4,85.7 489.4,85.6 490.4,85.6 491.4,85.5 492.4,85.4 493.4,85.4 494.4,85.3 495.4,85.3 496.4,85.2 497.4,85.2 498.4,85.1 499.4,85.1 500.4,85 501.4,85 502.4,85 503.4,84.9 504.4,84.9 505.4,84.9 506.4,84.8 507.4,84.8 508.4,84.8 509.4,84.8 510.4,84.8 511.4,84.7 512.4,84.7 513.4,84.7 514.4,84.7 515.4,84.7 516.4,84.7 517.4,84.7 518.4,84.7 519.4,84.7 520.4,84.7 521.4,84.7 522.4,84.6 523.4,84.6 524.4,84.6 525.4,84.6 526.4,84.6 527.4,84.6 528.4,84.6 529.4,84.6 530.4,84.6 531.4,84.6 532.4,84.6 533.4,84.6 534.4,84.6 535.4,84.6 536.4,84.6 537.4,84.6 538.4,84.6 539.4,84.6 540.4,84.6 541.4,84.6 541.9,84.6" fill="none" stroke="#a01818" stroke-width="1"/><path d="M316.4,92.1 317.4,92 318.4,92 319.4,92 320.4,92 321.4,92 322.4,92 323.4,92 324.4,92 325.4,92 326.4,92 327.4,92 328.4,92 329.4,92 330.4,91.9 331.4,91.9 332.4,91.9 333.4,91.9 334.4,91.9 335.4,91.9 336.4,91.9 337.4,91.9 338.4,91.9 339.4,91.8 340.4,91.8 341.4,91.8 342.4,91.8 343.4,91.8 344.4,91.8 345.4,91.7 346.4,91.7 347.4,91.7 348.4,91.7 349.4,91.7 350.4,91.6 351.4,91.6 352.4,91.6 353.4,91.6 354.4,91.5 355.4,91.5 356.4,91.5 357.4,91.4 358.4,91.4 359.4,91.4 360.4,91.3 361.4,91.3 362.4,91.2 363.4,91.2 364.4,91.1 365.4,91 366.4,91 367.4,90.9 368.4,90.8 369.4,90.7 370.4,90.6 371.4,90.5 372.4,90.3 373.4,90.1 374.4,89.9 375.4,89.6 376.4,89.2 377.4,88.8 378.4,88.2 379.4,87.5 380.4,86.7 381.4,85.6 382.4,84.3 383.4,82.7 384.4,80.9 385.4,78.7 386.4,76.1 387.4,73.2 388.4,70 389.4,66.4 390.4,62.5 391.4,58.4 392.4,54.2 393.4,49.9 394.4,45.6 395.4,41.6 396.4,37.9 397.4,34.7 398.4,32.3 399.4,30.6 400.4,29.9 401.4,30.1 402.4,31.3 403.4,33.3 404.4,36 405.4,39.3 406.4,42.9 407.4,46.8 408.4,50.8 409.4,54.8 410.4,58.7 411.4,62.3 412.4,65.7 413.4,68.8 414.4,71.6 415.4,74 416.4,76.1 417.4,77.9 418.4,79.4 419.4,80.7 420.4,81.7 421.4,82.5 422.4,83.2 423.4,83.7 424.4,84.1 425.4,84.4 426.4,84.7 427.4,84.9 428.4,85.1 429.4,85.2 430.4,85.3 431.4,85.4 432.4,85.4 433.4,85.5 434.4,85.5 435.4,85.5 436.4,85.6 437.4,85.6 438.4,85.6 439.4,85.6 440.4,85.6 441.4,85.5 442.4,85.5 443.4,85.5 444.4,85.4 445.4,85.3 446.4,85.3 447.4,85.2 448.4,85.1 449.4,84.9 450.4,84.8 451.4,84.6 452.4,84.4 453.4,84.2 454.4,84 455.4,83.7 456.4,83.4 457.4,83.1 458.4,82.7 459.4,82.3 460.4,81.9 461.4,81.5 462.4,81 463.4,80.5 464.4,79.9 465.4,79.4 466.4,78.8 467.4,78.2 468.4,77.5 469.4,76.9 470.4,76.2 471.4,75.5 472.4,74.8 473.4,74.1 474.4,73.5 475.4,72.8 476.4,72.1 477.4,71.5 478.4,70.9 479.4,70.3 480.4,69.8 481.4,69.4 482.4,69 483.4,68.6 484.4,68.4 485.4,68.2 486.4,68.1 487.4,68.1 488.4,68.2 489.4,68.3 490.4,68.5 491.4,68.8 492.4,69.2 493.4,69.6 494.4,70.1 495.4,70.6 496.4,71.1 497.4,71.7 498.4,72.3 499.4,72.9 500.4,73.5 501.4,74.1 502.4,74.7 503.4,75.3 504.4,75.9 505.4,76.5 506.4,77.1 507.4,77.6 508.4,78.2 509.4,78.7 510.4,79.1 511.4,79.6 512.4,80 513.4,80.4 514.4,80.8 515.4,81.1 516.4,81.4 517.4,81.7 518.4,82 519.4,82.2 520.4,82.4 521.4,82.6 522.4,82.8 523.4,82.9 524.4,83.1 525.4,83.2 526.4,83.3 527.4,83.4 528.4,83.5 529.4,83.6 530.4,83.7 531.4,83.7 532.4,83.8 533.4,83.8 534.4,83.9 535.4,83.9 536.4,83.9 537.4,84 538.4,84 539.4,84 540.4,84.1 541.4,84.1 541.9,84.1" fill="none" stroke="#2a2a2a" stroke-width="0.9"/><g fill="#30a030"><circle cx="316.4" cy="92.1" r="1.3"/><circle cx="317.4" cy="92" r="1.3"/><circle cx="318.4" cy="92" r="1.3"/><circle cx="319.4" cy="92" r="1.3"/><circle cx="320.4" cy="92" r="1.3"/><circle cx="321.4" cy="92" r="1.3"/><circle cx="322.4" cy="92" r="1.3"/><circle cx="323.4" cy="92" r="1.3"/><circle cx="324.4" cy="92" r="1.3"/><circle cx="325.4" cy="92" r="1.3"/><circle cx="326.4" cy="92" r="1.3"/><circle cx="327.4" cy="92" r="1.3"/><circle cx="328.4" cy="92" r="1.3"/><circle cx="329.4" cy="92" r="1.3"/><circle cx="330.4" cy="91.9" r="1.3"/><circle cx="331.4" cy="91.9" r="1.3"/><circle cx="332.4" cy="91.9" r="1.3"/><circle cx="333.4" cy="91.9" r="1.3"/><circle cx="334.4" cy="91.9" r="1.3"/><circle cx="335.4" cy="91.9" r="1.3"/><circle cx="336.4" cy="91.9" r="1.3"/><circle cx="337.4" cy="91.9" r="1.3"/><circle cx="338.4" cy="91.9" r="1.3"/><circle cx="339.4" cy="91.8" r="1.3"/><circle cx="340.4" cy="91.8" r="1.3"/><circle cx="341.4" cy="91.8" r="1.3"/><circle cx="342.4" cy="91.8" r="1.3"/><circle cx="343.4" cy="91.8" r="1.3"/><circle cx="344.4" cy="91.8" r="1.3"/><circle cx="345.4" cy="91.7" r="1.3"/><circle cx="346.4" cy="91.7" r="1.3"/><circle cx="347.4" cy="91.7" r="1.3"/><circle cx="348.4" cy="91.7" r="1.3"/><circle cx="349.4" cy="91.7" r="1.3"/><circle cx="350.4" cy="91.6" r="1.3"/><circle cx="351.4" cy="91.6" r="1.3"/><circle cx="352.4" cy="91.6" r="1.3"/><circle cx="353.4" cy="91.6" r="1.3"/><circle cx="354.4" cy="91.5" r="1.3"/><circle cx="355.4" cy="91.5" r="1.3"/><circle cx="356.4" cy="91.5" r="1.3"/><circle cx="357.4" cy="91.4" r="1.3"/><circle cx="358.4" cy="91.4" r="1.3"/><circle cx="359.4" cy="91.4" r="1.3"/><circle cx="360.4" cy="91.3" r="1.3"/><circle cx="361.4" cy="91.3" r="1.3"/><circle cx="362.4" cy="91.2" r="1.3"/><circle cx="363.4" cy="91.2" r="1.3"/><circle cx="364.4" cy="91.1" r="1.3"/><circle cx="365.4" cy="91" r="1.3"/><circle cx="366.4" cy="91" r="1.3"/><circle cx="367.4" cy="90.9" r="1.3"/><circle cx="368.4" cy="90.8" r="1.3"/><circle cx="369.4" cy="90.7" r="1.3"/><circle cx="370.4" cy="90.6" r="1.3"/><circle cx="371.4" cy="90.5" r="1.3"/><circle cx="372.4" cy="90.3" r="1.3"/><circle cx="373.4" cy="90.1" r="1.3"/><circle cx="374.4" cy="89.9" r="1.3"/><circle cx="375.4" cy="89.6" r="1.3"/><circle cx="376.4" cy="89.2" r="1.3"/><circle cx="377.4" cy="88.8" r="1.3"/><circle cx="378.4" cy="88.2" r="1.3"/><circle cx="379.4" cy="87.5" r="1.3"/><circle cx="380.4" cy="86.7" r="1.3"/><circle cx="381.4" cy="85.6" r="1.3"/><circle cx="382.4" cy="84.3" r="1.3"/><circle cx="383.4" cy="82.7" r="1.3"/><circle cx="384.4" cy="80.9" r="1.3"/><circle cx="385.4" cy="78.7" r="1.3"/><circle cx="386.4" cy="76.1" r="1.3"/><circle cx="387.4" cy="73.2" r="1.3"/><circle cx="388.4" cy="70" r="1.3"/><circle cx="389.4" cy="66.4" r="1.3"/><circle cx="390.4" cy="62.5" r="1.3"/><circle cx="391.4" cy="58.4" r="1.3"/><circle cx="392.4" cy="54.2" r="1.3"/><circle cx="393.4" cy="49.9" r="1.3"/><circle cx="394.4" cy="45.6" r="1.3"/><circle cx="395.4" cy="41.6" r="1.3"/><circle cx="396.4" cy="37.9" r="1.3"/><circle cx="397.4" cy="34.7" r="1.3"/><circle cx="398.4" cy="32.3" r="1.3"/><circle cx="399.4" cy="30.6" r="1.3"/><circle cx="400.4" cy="29.9" r="1.3"/><circle cx="401.4" cy="30.1" r="1.3"/><circle cx="402.4" cy="31.3" r="1.3"/><circle cx="403.4" cy="33.3" r="1.3"/><circle cx="404.4" cy="36" r="1.3"/><circle cx="405.4" cy="39.3" r="1.3"/><circle cx="406.4" cy="42.9" r="1.3"/><circle cx="407.4" cy="46.8" r="1.3"/><circle cx="408.4" cy="50.8" r="1.3"/><circle cx="409.4" cy="54.8" r="1.3"/><circle cx="410.4" cy="58.7" r="1.3"/><circle cx="411.4" cy="62.3" r="1.3"/><circle cx="412.4" cy="65.7" r="1.3"/><circle cx="413.4" cy="68.8" r="1.3"/><circle cx="414.4" cy="71.6" r="1.3"/><circle cx="415.4" cy="74" r="1.3"/><circle cx="416.4" cy="76.1" r="1.3"/><circle cx="417.4" cy="77.9" r="1.3"/><circle cx="418.4" cy="79.4" r="1.3"/><circle cx="419.4" cy="80.7" r="1.3"/><circle cx="420.4" cy="81.7" r="1.3"/><circle cx="421.4" cy="82.5" r="1.3"/><circle cx="422.4" cy="83.2" r="1.3"/><circle cx="423.4" cy="83.7" r="1.3"/><circle cx="424.4" cy="84.1" r="1.3"/><circle cx="425.4" cy="84.4" r="1.3"/><circle cx="426.4" cy="84.7" r="1.3"/><circle cx="427.4" cy="84.9" r="1.3"/><circle cx="428.4" cy="85.1" r="1.3"/><circle cx="429.4" cy="85.2" r="1.3"/><circle cx="430.4" cy="85.3" r="1.3"/><circle cx="431.4" cy="85.4" r="1.3"/><circle cx="432.4" cy="85.4" r="1.3"/><circle cx="433.4" cy="85.5" r="1.3"/><circle cx="434.4" cy="85.5" r="1.3"/><circle cx="435.4" cy="85.5" r="1.3"/><circle cx="436.4" cy="85.6" r="1.3"/><circle cx="437.4" cy="85.6" r="1.3"/><circle cx="438.4" cy="85.6" r="1.3"/><circle cx="439.4" cy="85.6" r="1.3"/><circle cx="440.4" cy="85.6" r="1.3"/><circle cx="441.4" cy="85.5" r="1.3"/><circle cx="442.4" cy="85.5" r="1.3"/><circle cx="443.4" cy="85.5" r="1.3"/><circle cx="444.4" cy="85.4" r="1.3"/><circle cx="445.4" cy="85.3" r="1.3"/><circle cx="446.4" cy="85.3" r="1.3"/><circle cx="447.4" cy="85.2" r="1.3"/><circle cx="448.4" cy="85.1" r="1.3"/><circle cx="449.4" cy="84.9" r="1.3"/><circle cx="450.4" cy="84.8" r="1.3"/><circle cx="451.4" cy="84.6" r="1.3"/><circle cx="452.4" cy="84.4" r="1.3"/><circle cx="453.4" cy="84.2" r="1.3"/><circle cx="454.4" cy="84" r="1.3"/><circle cx="455.4" cy="83.7" r="1.3"/><circle cx="456.4" cy="83.4" r="1.3"/><circle cx="457.4" cy="83.1" r="1.3"/><circle cx="458.4" cy="82.7" r="1.3"/><circle cx="459.4" cy="82.3" r="1.3"/><circle cx="460.4" cy="81.9" r="1.3"/><circle cx="461.4" cy="81.5" r="1.3"/><circle cx="462.4" cy="81" r="1.3"/><circle cx="463.4" cy="80.5" r="1.3"/><circle cx="464.4" cy="79.9" r="1.3"/><circle cx="465.4" cy="79.4" r="1.3"/><circle cx="466.4" cy="78.8" r="1.3"/><circle cx="467.4" cy="78.2" r="1.3"/><circle cx="468.4" cy="77.5" r="1.3"/><circle cx="469.4" cy="76.9" r="1.3"/><circle cx="470.4" cy="76.2" r="1.3"/><circle cx="471.4" cy="75.5" r="1.3"/><circle cx="472.4" cy="74.8" r="1.3"/><circle cx="473.4" cy="74.1" r="1.3"/><circle cx="474.4" cy="73.5" r="1.3"/><circle cx="475.4" cy="72.8" r="1.3"/><circle cx="476.4" cy="72.1" r="1.3"/><circle cx="477.4" cy="71.5" r="1.3"/><circle cx="478.4" cy="70.9" r="1.3"/><circle cx="479.4" cy="70.3" r="1.3"/><circle cx="480.4" cy="69.8" r="1.3"/><circle cx="481.4" cy="69.4" r="1.3"/><circle cx="482.4" cy="69" r="1.3"/><circle cx="483.4" cy="68.6" r="1.3"/><circle cx="484.4" cy="68.4" r="1.3"/><circle cx="485.4" cy="68.2" r="1.3"/><circle cx="486.4" cy="68.1" r="1.3"/><circle cx="487.4" cy="68.1" r="1.3"/><circle cx="488.4" cy="68.2" r="1.3"/><circle cx="489.4" cy="68.3" r="1.3"/><circle cx="490.4" cy="68.5" r="1.3"/><circle cx="491.4" cy="68.8" r="1.3"/><circle cx="492.4" cy="69.2" r="1.3"/><circle cx="493.4" cy="69.6" r="1.3"/><circle cx="494.4" cy="70.1" r="1.3"/><circle cx="495.4" cy="70.6" r="1.3"/><circle cx="496.4" cy="71.1" r="1.3"/><circle cx="497.4" cy="71.7" r="1.3"/><circle cx="498.4" cy="72.3" r="1.3"/><circle cx="499.4" cy="72.9" r="1.3"/><circle cx="500.4" cy="73.5" r="1.3"/><circle cx="501.4" cy="74.1" r="1.3"/><circle cx="502.4" cy="74.7" r="1.3"/><circle cx="503.4" cy="75.3" r="1.3"/><circle cx="504.4" cy="75.9" r="1.3"/><circle cx="505.4" cy="76.5" r="1.3"/><circle cx="506.4" cy="77.1" r="1.3"/><circle cx="507.4" cy="77.6" r="1.3"/><circle cx="508.4" cy="78.2" r="1.3"/><circle cx="509.4" cy="78.7" r="1.3"/><circle cx="510.4" cy="79.1" r="1.3"/><circle cx="511.4" cy="79.6" r="1.3"/><circle cx="512.4" cy="80" r="1.3"/><circle cx="513.4" cy="80.4" r="1.3"/><circle cx="514.4" cy="80.8" r="1.3"/><circle cx="515.4" cy="81.1" r="1.3"/><circle cx="516.4" cy="81.4" r="1.3"/><circle cx="517.4" cy="81.7" r="1.3"/><circle cx="518.4" cy="82" r="1.3"/><circle cx="519.4" cy="82.2" r="1.3"/><circle cx="520.4" cy="82.4" r="1.3"/><circle cx="521.4" cy="82.6" r="1.3"/><circle cx="522.4" cy="82.8" r="1.3"/><circle cx="523.4" cy="82.9" r="1.3"/><circle cx="524.4" cy="83.1" r="1.3"/><circle cx="525.4" cy="83.2" r="1.3"/><circle cx="526.4" cy="83.3" r="1.3"/><circle cx="527.4" cy="83.4" r="1.3"/><circle cx="528.4" cy="83.5" r="1.3"/><circle cx="529.4" cy="83.6" r="1.3"/><circle cx="530.4" cy="83.7" r="1.3"/><circle cx="531.4" cy="83.7" r="1.3"/><circle cx="532.4" cy="83.8" r="1.3"/><circle cx="533.4" cy="83.8" r="1.3"/><circle cx="534.4" cy="83.9" r="1.3"/><circle cx="535.4" cy="83.9" r="1.3"/><circle cx="536.4" cy="83.9" r="1.3"/><circle cx="537.4" cy="84" r="1.3"/><circle cx="538.4" cy="84" r="1.3"/><circle cx="539.4" cy="84" r="1.3"/><circle cx="540.4" cy="84.1" r="1.3"/><circle cx="541.4" cy="84.1" r="1.3"/><circle cx="541.9" cy="84.1" r="1.3"/></g></g>
<g clip-path="url(#cbb)"><path d="M350.4,198 351.4,198 352.4,198 353.4,198 354.4,198 355.4,198 356.4,198 357.4,198 358.4,198 359.4,198 360.4,198 361.4,198 362.4,198 363.4,198 364.4,198 365.4,198 366.4,198 367.4,198 368.4,197.9 369.4,197.9 370.4,197.8 371.4,197.8 372.4,197.6 373.4,197.4 374.4,197.2 375.4,196.8 376.4,196.2 377.4,195.5 378.4,194.5 379.4,193.2 380.4,191.6 381.4,189.5 382.4,186.9 383.4,183.8 384.4,180.1 385.4,175.9 386.4,171 387.4,165.6 388.4,159.7 389.4,153.5 390.4,147.1 391.4,140.8 392.4,134.6 393.4,129 394.4,124 395.4,120 396.4,117 397.4,115.3 398.4,114.8 399.4,115.7 400.4,117.7 401.4,121 402.4,125.1 403.4,130.1 404.4,135.6 405.4,141.5 406.4,147.4 407.4,153.3 408.4,158.9 409.4,164.1 410.4,168.9 411.4,173.1 412.4,176.7 413.4,179.8 414.4,182.3 415.4,184.4 416.4,186.1 417.4,187.4 418.4,188.4 419.4,189.1 420.4,189.6 421.4,190 422.4,190.3 423.4,190.5 424.4,190.7 425.4,190.7 426.4,190.8 427.4,190.8 428.4,190.9 429.4,190.9 430.4,190.9 431.4,190.9 432.4,190.9 433.4,190.9 434.4,190.9 435.4,190.9 436.4,190.9 437.4,190.9 438.4,190.9 439.4,190.9 440.4,190.9 441.4,190.9 442.4,190.9 443.4,190.9 444.4,190.9 445.4,190.9 446.4,190.9 447.4,190.9 448.4,190.9 449.4,190.9 L449.4,190.9 448.4,190.9 447.4,190.9 446.4,190.9 445.4,190.9 444.4,190.9 443.4,190.9 442.4,190.9 441.4,190.9 440.4,190.9 439.4,190.9 438.4,190.9 437.4,190.9 436.4,190.9 435.4,190.9 434.4,190.9 433.4,190.9 432.4,190.9 431.4,190.9 430.4,190.9 429.4,190.9 428.4,190.9 427.4,190.9 426.4,190.9 425.4,190.9 424.4,190.9 423.4,190.9 422.4,190.9 421.4,190.9 420.4,190.9 419.4,190.9 418.4,190.9 417.4,190.9 416.4,191 415.4,191 414.4,191 413.4,191 412.4,191.1 411.4,191.1 410.4,191.2 409.4,191.3 408.4,191.4 407.4,191.5 406.4,191.7 405.4,191.9 404.4,192.1 403.4,192.3 402.4,192.5 401.4,192.8 400.4,193.1 399.4,193.4 398.4,193.7 397.4,194.1 396.4,194.4 395.4,194.7 394.4,195.1 393.4,195.4 392.4,195.7 391.4,196 390.4,196.3 389.4,196.5 388.4,196.7 387.4,196.9 386.4,197.1 385.4,197.3 384.4,197.4 383.4,197.5 382.4,197.6 381.4,197.7 380.4,197.8 379.4,197.8 378.4,197.9 377.4,197.9 376.4,197.9 375.4,198 374.4,198 373.4,198 372.4,198 371.4,198 370.4,198 369.4,198 368.4,198 367.4,198 366.4,198 365.4,198 364.4,198 363.4,198 362.4,198 361.4,198 360.4,198 359.4,198 358.4,198 357.4,198 356.4,198 355.4,198 354.4,198 353.4,198 352.4,198 351.4,198 350.4,198Z" fill="url(#gb_r2)"/><path d="M373.4,197.4 374.4,197.2 375.4,196.8 376.4,196.2 377.4,195.5 378.4,194.5 379.4,193.2 380.4,191.6 381.4,189.5 382.4,186.9 383.4,183.8 384.4,180.1 385.4,175.9 386.4,171 387.4,165.6 388.4,159.7 389.4,153.5 390.4,147.1 391.4,140.8 392.4,134.6 393.4,129 394.4,124 395.4,120 396.4,117 397.4,115.3 398.4,114.8 399.4,115.7 400.4,117.7 401.4,121 402.4,125.1 403.4,130.1 404.4,135.6 405.4,141.5 406.4,147.4 407.4,153.3 408.4,158.9 409.4,164.1 410.4,168.9 411.4,173.1 412.4,176.7 413.4,179.8 414.4,182.3 415.4,184.4 416.4,186.1 417.4,187.4 418.4,188.4 419.4,189.1 420.4,189.6 421.4,190 422.4,190.3" fill="none" stroke="#ff1010" stroke-width="1"/><path d="M350.4,198 351.4,198 352.4,198 353.4,198 354.4,198 355.4,198 356.4,198 357.4,198 358.4,198 359.4,198 360.4,198 361.4,198 362.4,198 363.4,198 364.4,198 365.4,197.9 366.4,197.9 367.4,197.9 368.4,197.8 369.4,197.7 370.4,197.5 371.4,197.3 372.4,197 373.4,196.6 374.4,196 375.4,195.4 376.4,194.5 377.4,193.5 378.4,192.4 379.4,191 380.4,189.5 381.4,187.9 382.4,186.3 383.4,184.6 384.4,182.9 385.4,181.4 386.4,180.1 387.4,179.1 388.4,178.4 389.4,178 390.4,177.9 391.4,178 392.4,178.3 393.4,178.7 394.4,179.3 395.4,180 396.4,180.8 397.4,181.7 398.4,182.6 399.4,183.5 400.4,184.4 401.4,185.3 402.4,186.1 403.4,186.9 404.4,187.5 405.4,188.1 406.4,188.6 407.4,189.1 408.4,189.5 409.4,189.8 410.4,190 411.4,190.2 412.4,190.4 413.4,190.5 414.4,190.6 415.4,190.7 416.4,190.8 417.4,190.8 418.4,190.8 419.4,190.9 420.4,190.9 421.4,190.9 422.4,190.9 423.4,190.9 424.4,190.9 425.4,190.9 426.4,190.9 427.4,190.9 428.4,190.9 429.4,190.9 L429.4,190.9 428.4,190.9 427.4,190.9 426.4,190.9 425.4,190.9 424.4,190.9 423.4,190.9 422.4,190.9 421.4,190.9 420.4,190.9 419.4,190.9 418.4,190.9 417.4,190.9 416.4,191 415.4,191 414.4,191 413.4,191 412.4,191.1 411.4,191.1 410.4,191.2 409.4,191.3 408.4,191.4 407.4,191.5 406.4,191.7 405.4,191.9 404.4,192.1 403.4,192.3 402.4,192.5 401.4,192.8 400.4,193.1 399.4,193.4 398.4,193.7 397.4,194.1 396.4,194.4 395.4,194.7 394.4,195.1 393.4,195.4 392.4,195.7 391.4,196 390.4,196.3 389.4,196.5 388.4,196.7 387.4,196.9 386.4,197.1 385.4,197.3 384.4,197.4 383.4,197.5 382.4,197.6 381.4,197.7 380.4,197.8 379.4,197.8 378.4,197.9 377.4,197.9 376.4,197.9 375.4,198 374.4,198 373.4,198 372.4,198 371.4,198 370.4,198 369.4,198 368.4,198 367.4,198 366.4,198 365.4,198 364.4,198 363.4,198 362.4,198 361.4,198 360.4,198 359.4,198 358.4,198 357.4,198 356.4,198 355.4,198 354.4,198 353.4,198 352.4,198 351.4,198 350.4,198Z" fill="url(#gb_m2)"/><path d="M370.4,197.5 371.4,197.3 372.4,197 373.4,196.6 374.4,196 375.4,195.4 376.4,194.5 377.4,193.5 378.4,192.4 379.4,191 380.4,189.5 381.4,187.9 382.4,186.3 383.4,184.6 384.4,182.9 385.4,181.4 386.4,180.1 387.4,179.1 388.4,178.4 389.4,178 390.4,177.9 391.4,178 392.4,178.3 393.4,178.7 394.4,179.3 395.4,180 396.4,180.8 397.4,181.7 398.4,182.6 399.4,183.5 400.4,184.4 401.4,185.3 402.4,186.1 403.4,186.9 404.4,187.5 405.4,188.1 406.4,188.6 407.4,189.1 408.4,189.5 409.4,189.8 410.4,190 411.4,190.2 412.4,190.4 413.4,190.5" fill="none" stroke="#ff10ff" stroke-width="1"/><path d="M440.4,190.9 441.4,190.9 442.4,190.8 443.4,190.8 444.4,190.8 445.4,190.8 446.4,190.7 447.4,190.6 448.4,190.6 449.4,190.5 450.4,190.4 451.4,190.3 452.4,190.1 453.4,189.9 454.4,189.7 455.4,189.5 456.4,189.2 457.4,188.9 458.4,188.5 459.4,188.1 460.4,187.6 461.4,187.1 462.4,186.5 463.4,185.8 464.4,185.1 465.4,184.3 466.4,183.5 467.4,182.6 468.4,181.6 469.4,180.7 470.4,179.6 471.4,178.6 472.4,177.5 473.4,176.5 474.4,175.4 475.4,174.4 476.4,173.5 477.4,172.6 478.4,171.7 479.4,171 480.4,170.3 481.4,169.7 482.4,169.3 483.4,169 484.4,168.8 485.4,168.8 486.4,168.8 487.4,169 488.4,169.4 489.4,169.8 490.4,170.4 491.4,171 492.4,171.7 493.4,172.5 494.4,173.4 495.4,174.3 496.4,175.2 497.4,176.1 498.4,177.1 499.4,178 500.4,178.9 501.4,179.8 502.4,180.6 503.4,181.4 504.4,182.1 505.4,182.8 506.4,183.5 507.4,184 508.4,184.6 509.4,185 510.4,185.4 511.4,185.8 512.4,186.1 513.4,186.4 514.4,186.6 515.4,186.8 516.4,187 517.4,187.2 518.4,187.3 519.4,187.4 520.4,187.5 521.4,187.5 522.4,187.6 523.4,187.6 524.4,187.7 525.4,187.7 526.4,187.7 527.4,187.7 528.4,187.8 529.4,187.8 530.4,187.8 531.4,187.8 532.4,187.8 533.4,187.8 534.4,187.8 535.4,187.8 536.4,187.8 537.4,187.8 538.4,187.8 539.4,187.8 L539.4,187.8 538.4,187.8 537.4,187.8 536.4,187.8 535.4,187.8 534.4,187.8 533.4,187.8 532.4,187.8 531.4,187.8 530.4,187.8 529.4,187.8 528.4,187.8 527.4,187.8 526.4,187.8 525.4,187.8 524.4,187.8 523.4,187.8 522.4,187.8 521.4,187.8 520.4,187.8 519.4,187.8 518.4,187.8 517.4,187.8 516.4,187.8 515.4,187.8 514.4,187.8 513.4,187.8 512.4,187.8 511.4,187.8 510.4,187.8 509.4,187.9 508.4,187.9 507.4,187.9 506.4,187.9 505.4,187.9 504.4,187.9 503.4,188 502.4,188 501.4,188 500.4,188 499.4,188.1 498.4,188.1 497.4,188.2 496.4,188.2 495.4,188.3 494.4,188.3 493.4,188.4 492.4,188.5 491.4,188.5 490.4,188.6 489.4,188.7 488.4,188.8 487.4,188.8 486.4,188.9 485.4,189 484.4,189.1 483.4,189.2 482.4,189.3 481.4,189.4 480.4,189.5 479.4,189.6 478.4,189.7 477.4,189.7 476.4,189.8 475.4,189.9 474.4,190 473.4,190.1 472.4,190.1 471.4,190.2 470.4,190.3 469.4,190.3 468.4,190.4 467.4,190.5 466.4,190.5 465.4,190.6 464.4,190.6 463.4,190.6 462.4,190.7 461.4,190.7 460.4,190.7 459.4,190.8 458.4,190.8 457.4,190.8 456.4,190.8 455.4,190.8 454.4,190.8 453.4,190.8 452.4,190.9 451.4,190.9 450.4,190.9 449.4,190.9 448.4,190.9 447.4,190.9 446.4,190.9 445.4,190.9 444.4,190.9 443.4,190.9 442.4,190.9 441.4,190.9 440.4,190.9Z" fill="url(#gb_b2)"/><path d="M450.4,190.4 451.4,190.3 452.4,190.1 453.4,189.9 454.4,189.7 455.4,189.5 456.4,189.2 457.4,188.9 458.4,188.5 459.4,188.1 460.4,187.6 461.4,187.1 462.4,186.5 463.4,185.8 464.4,185.1 465.4,184.3 466.4,183.5 467.4,182.6 468.4,181.6 469.4,180.7 470.4,179.6 471.4,178.6 472.4,177.5 473.4,176.5 474.4,175.4 475.4,174.4 476.4,173.5 477.4,172.6 478.4,171.7 479.4,171 480.4,170.3 481.4,169.7 482.4,169.3 483.4,169 484.4,168.8 485.4,168.8 486.4,168.8 487.4,169 488.4,169.4 489.4,169.8 490.4,170.4 491.4,171 492.4,171.7 493.4,172.5 494.4,173.4 495.4,174.3 496.4,175.2 497.4,176.1 498.4,177.1 499.4,178 500.4,178.9 501.4,179.8 502.4,180.6 503.4,181.4 504.4,182.1 505.4,182.8 506.4,183.5 507.4,184 508.4,184.6 509.4,185 510.4,185.4 511.4,185.8 512.4,186.1 513.4,186.4 514.4,186.6 515.4,186.8 516.4,187 517.4,187.2 518.4,187.3 519.4,187.4" fill="none" stroke="#1515ff" stroke-width="1"/><path d="M440.4,190.7 441.4,190.6 442.4,190.6 443.4,190.5 444.4,190.4 445.4,190.3 446.4,190.2 447.4,190.1 448.4,190 449.4,189.8 450.4,189.7 451.4,189.5 452.4,189.3 453.4,189.1 454.4,188.8 455.4,188.6 456.4,188.3 457.4,188 458.4,187.7 459.4,187.4 460.4,187.1 461.4,186.8 462.4,186.4 463.4,186.1 464.4,185.8 465.4,185.5 466.4,185.2 467.4,184.9 468.4,184.7 469.4,184.4 470.4,184.2 471.4,184 472.4,183.9 473.4,183.8 474.4,183.7 475.4,183.7 476.4,183.6 477.4,183.7 478.4,183.7 479.4,183.8 480.4,183.9 481.4,184 482.4,184.2 483.4,184.3 484.4,184.5 485.4,184.7 486.4,184.9 487.4,185.1 488.4,185.3 489.4,185.6 490.4,185.8 491.4,185.9 492.4,186.1 493.4,186.3 494.4,186.5 495.4,186.6 496.4,186.8 497.4,186.9 498.4,187 499.4,187.1 500.4,187.2 501.4,187.3 502.4,187.4 503.4,187.5 504.4,187.5 505.4,187.6 506.4,187.6 507.4,187.6 508.4,187.7 509.4,187.7 510.4,187.7 511.4,187.7 512.4,187.7 513.4,187.8 514.4,187.8 515.4,187.8 516.4,187.8 517.4,187.8 518.4,187.8 519.4,187.8 L519.4,187.8 518.4,187.8 517.4,187.8 516.4,187.8 515.4,187.8 514.4,187.8 513.4,187.8 512.4,187.8 511.4,187.8 510.4,187.8 509.4,187.9 508.4,187.9 507.4,187.9 506.4,187.9 505.4,187.9 504.4,187.9 503.4,188 502.4,188 501.4,188 500.4,188 499.4,188.1 498.4,188.1 497.4,188.2 496.4,188.2 495.4,188.3 494.4,188.3 493.4,188.4 492.4,188.5 491.4,188.5 490.4,188.6 489.4,188.7 488.4,188.8 487.4,188.8 486.4,188.9 485.4,189 484.4,189.1 483.4,189.2 482.4,189.3 481.4,189.4 480.4,189.5 479.4,189.6 478.4,189.7 477.4,189.7 476.4,189.8 475.4,189.9 474.4,190 473.4,190.1 472.4,190.1 471.4,190.2 470.4,190.3 469.4,190.3 468.4,190.4 467.4,190.5 466.4,190.5 465.4,190.6 464.4,190.6 463.4,190.6 462.4,190.7 461.4,190.7 460.4,190.7 459.4,190.8 458.4,190.8 457.4,190.8 456.4,190.8 455.4,190.8 454.4,190.8 453.4,190.8 452.4,190.9 451.4,190.9 450.4,190.9 449.4,190.9 448.4,190.9 447.4,190.9 446.4,190.9 445.4,190.9 444.4,190.9 443.4,190.9 442.4,190.9 441.4,190.9 440.4,190.9Z" fill="url(#gb_o2)"/><path d="M444.4,190.4 445.4,190.3 446.4,190.2 447.4,190.1 448.4,190 449.4,189.8 450.4,189.7 451.4,189.5 452.4,189.3 453.4,189.1 454.4,188.8 455.4,188.6 456.4,188.3 457.4,188 458.4,187.7 459.4,187.4 460.4,187.1 461.4,186.8 462.4,186.4 463.4,186.1 464.4,185.8 465.4,185.5 466.4,185.2 467.4,184.9 468.4,184.7 469.4,184.4 470.4,184.2 471.4,184 472.4,183.9 473.4,183.8 474.4,183.7 475.4,183.7 476.4,183.6 477.4,183.7 478.4,183.7 479.4,183.8 480.4,183.9 481.4,184 482.4,184.2 483.4,184.3 484.4,184.5 485.4,184.7 486.4,184.9 487.4,185.1 488.4,185.3 489.4,185.6 490.4,185.8 491.4,185.9 492.4,186.1 493.4,186.3 494.4,186.5 495.4,186.6 496.4,186.8 497.4,186.9 498.4,187 499.4,187.1 500.4,187.2 501.4,187.3 502.4,187.4 503.4,187.5 504.4,187.5" fill="none" stroke="#ff8a1e" stroke-width="1"/><path d="M316.4,198 317.4,198 318.4,198 319.4,198 320.4,198 321.4,198 322.4,198 323.4,198 324.4,198 325.4,198 326.4,198 327.4,198 328.4,198 329.4,198 330.4,198 331.4,198 332.4,198 333.4,198 334.4,198 335.4,198 336.4,198 337.4,198 338.4,198 339.4,198 340.4,198 341.4,198 342.4,198 343.4,198 344.4,198 345.4,198 346.4,198 347.4,198 348.4,198 349.4,198 350.4,198 351.4,198 352.4,198 353.4,198 354.4,198 355.4,198 356.4,198 357.4,198 358.4,198 359.4,198 360.4,198 361.4,198 362.4,198 363.4,198 364.4,198 365.4,198 366.4,198 367.4,198 368.4,198 369.4,198 370.4,198 371.4,198 372.4,198 373.4,198 374.4,198 375.4,198 376.4,197.9 377.4,197.9 378.4,197.9 379.4,197.8 380.4,197.8 381.4,197.7 382.4,197.6 383.4,197.5 384.4,197.4 385.4,197.3 386.4,197.1 387.4,196.9 388.4,196.7 389.4,196.5 390.4,196.3 391.4,196 392.4,195.7 393.4,195.4 394.4,195.1 395.4,194.7 396.4,194.4 397.4,194.1 398.4,193.7 399.4,193.4 400.4,193.1 401.4,192.8 402.4,192.5 403.4,192.3 404.4,192.1 405.4,191.9 406.4,191.7 407.4,191.5 408.4,191.4 409.4,191.3 410.4,191.2 411.4,191.1 412.4,191.1 413.4,191 414.4,191 415.4,191 416.4,191 417.4,190.9 418.4,190.9 419.4,190.9 420.4,190.9 421.4,190.9 422.4,190.9 423.4,190.9 424.4,190.9 425.4,190.9 426.4,190.9 427.4,190.9 428.4,190.9 429.4,190.9 430.4,190.9 431.4,190.9 432.4,190.9 433.4,190.9 434.4,190.9 435.4,190.9 436.4,190.9 437.4,190.9 438.4,190.9 439.4,190.9 440.4,190.9 441.4,190.9 442.4,190.9 443.4,190.9 444.4,190.9 445.4,190.9 446.4,190.9 447.4,190.9 448.4,190.9 449.4,190.9 450.4,190.9 451.4,190.9 452.4,190.9 453.4,190.8 454.4,190.8 455.4,190.8 456.4,190.8 457.4,190.8 458.4,190.8 459.4,190.8 460.4,190.7 461.4,190.7 462.4,190.7 463.4,190.6 464.4,190.6 465.4,190.6 466.4,190.5 467.4,190.5 468.4,190.4 469.4,190.3 470.4,190.3 471.4,190.2 472.4,190.1 473.4,190.1 474.4,190 475.4,189.9 476.4,189.8 477.4,189.7 478.4,189.7 479.4,189.6 480.4,189.5 481.4,189.4 482.4,189.3 483.4,189.2 484.4,189.1 485.4,189 486.4,188.9 487.4,188.8 488.4,188.8 489.4,188.7 490.4,188.6 491.4,188.5 492.4,188.5 493.4,188.4 494.4,188.3 495.4,188.3 496.4,188.2 497.4,188.2 498.4,188.1 499.4,188.1 500.4,188 501.4,188 502.4,188 503.4,188 504.4,187.9 505.4,187.9 506.4,187.9 507.4,187.9 508.4,187.9 509.4,187.9 510.4,187.8 511.4,187.8 512.4,187.8 513.4,187.8 514.4,187.8 515.4,187.8 516.4,187.8 517.4,187.8 518.4,187.8 519.4,187.8 520.4,187.8 521.4,187.8 522.4,187.8 523.4,187.8 524.4,187.8 525.4,187.8 526.4,187.8 527.4,187.8 528.4,187.8 529.4,187.8 530.4,187.8 531.4,187.8 532.4,187.8 533.4,187.8 534.4,187.8 535.4,187.8 536.4,187.8 537.4,187.8 538.4,187.8 539.4,187.8 540.4,187.8 541.4,187.8 541.9,187.8" fill="none" stroke="#a01818" stroke-width="1"/><path d="M316.4,196.9 317.4,196.9 318.4,196.9 319.4,196.9 320.4,196.9 321.4,196.8 322.4,196.8 323.4,196.8 324.4,196.8 325.4,196.8 326.4,196.8 327.4,196.8 328.4,196.8 329.4,196.8 330.4,196.8 331.4,196.8 332.4,196.8 333.4,196.8 334.4,196.7 335.4,196.7 336.4,196.7 337.4,196.7 338.4,196.7 339.4,196.7 340.4,196.7 341.4,196.7 342.4,196.6 343.4,196.6 344.4,196.6 345.4,196.6 346.4,196.6 347.4,196.6 348.4,196.5 349.4,196.5 350.4,196.5 351.4,196.5 352.4,196.4 353.4,196.4 354.4,196.4 355.4,196.3 356.4,196.3 357.4,196.3 358.4,196.2 359.4,196.2 360.4,196.1 361.4,196.1 362.4,196 363.4,196 364.4,195.9 365.4,195.8 366.4,195.6 367.4,195.5 368.4,195.3 369.4,195.1 370.4,194.7 371.4,194.3 372.4,193.8 373.4,193.2 374.4,192.4 375.4,191.4 376.4,190.2 377.4,188.7 378.4,186.8 379.4,184.7 380.4,182.1 381.4,179 382.4,175.6 383.4,171.6 384.4,167.2 385.4,162.4 386.4,157.2 387.4,151.6 388.4,145.9 389.4,140 390.4,134.1 391.4,128.4 392.4,123 393.4,118.1 394.4,113.8 395.4,110.4 396.4,108 397.4,106.7 398.4,106.4 399.4,107.4 400.4,109.5 401.4,112.6 402.4,116.5 403.4,121.1 404.4,126.3 405.4,131.7 406.4,137.3 407.4,143 408.4,148.5 409.4,153.7 410.4,158.6 411.4,163.1 412.4,167.2 413.4,170.8 414.4,174 415.4,176.8 416.4,179.1 417.4,181 418.4,182.6 419.4,183.9 420.4,185 421.4,185.9 422.4,186.5 423.4,187 424.4,187.5 425.4,187.8 426.4,188 427.4,188.2 428.4,188.4 429.4,188.5 430.4,188.6 431.4,188.7 432.4,188.7 433.4,188.8 434.4,188.8 435.4,188.8 436.4,188.8 437.4,188.8 438.4,188.8 439.4,188.8 440.4,188.8 441.4,188.7 442.4,188.7 443.4,188.6 444.4,188.5 445.4,188.4 446.4,188.3 447.4,188.1 448.4,188 449.4,187.8 450.4,187.5 451.4,187.2 452.4,186.9 453.4,186.5 454.4,186.1 455.4,185.6 456.4,185.1 457.4,184.5 458.4,183.9 459.4,183.2 460.4,182.5 461.4,181.7 462.4,180.8 463.4,179.9 464.4,178.9 465.4,177.9 466.4,176.9 467.4,175.8 468.4,174.7 469.4,173.5 470.4,172.4 471.4,171.3 472.4,170.2 473.4,169.1 474.4,168.1 475.4,167.2 476.4,166.3 477.4,165.4 478.4,164.7 479.4,164.1 480.4,163.6 481.4,163.3 482.4,163 483.4,162.9 484.4,163 485.4,163.1 486.4,163.4 487.4,163.8 488.4,164.4 489.4,165 490.4,165.7 491.4,166.5 492.4,167.4 493.4,168.3 494.4,169.3 495.4,170.3 496.4,171.3 497.4,172.3 498.4,173.4 499.4,174.4 500.4,175.3 501.4,176.3 502.4,177.2 503.4,178.1 504.4,178.9 505.4,179.7 506.4,180.4 507.4,181.1 508.4,181.7 509.4,182.3 510.4,182.8 511.4,183.3 512.4,183.7 513.4,184.1 514.4,184.4 515.4,184.7 516.4,185 517.4,185.2 518.4,185.4 519.4,185.6 520.4,185.8 521.4,185.9 522.4,186 523.4,186.1 524.4,186.2 525.4,186.3 526.4,186.3 527.4,186.4 528.4,186.4 529.4,186.4 530.4,186.5 531.4,186.5 532.4,186.5 533.4,186.6 534.4,186.6 535.4,186.6 536.4,186.6 537.4,186.6 538.4,186.6 539.4,186.6 540.4,186.6 541.4,186.6 541.9,186.7" fill="none" stroke="#2a2a2a" stroke-width="0.9"/><g fill="#30a030"><circle cx="316.4" cy="196.9" r="1.3"/><circle cx="317.4" cy="196.9" r="1.3"/><circle cx="318.4" cy="196.9" r="1.3"/><circle cx="319.4" cy="196.9" r="1.3"/><circle cx="320.4" cy="196.9" r="1.3"/><circle cx="321.4" cy="196.8" r="1.3"/><circle cx="322.4" cy="196.8" r="1.3"/><circle cx="323.4" cy="196.8" r="1.3"/><circle cx="324.4" cy="196.8" r="1.3"/><circle cx="325.4" cy="196.8" r="1.3"/><circle cx="326.4" cy="196.8" r="1.3"/><circle cx="327.4" cy="196.8" r="1.3"/><circle cx="328.4" cy="196.8" r="1.3"/><circle cx="329.4" cy="196.8" r="1.3"/><circle cx="330.4" cy="196.8" r="1.3"/><circle cx="331.4" cy="196.8" r="1.3"/><circle cx="332.4" cy="196.8" r="1.3"/><circle cx="333.4" cy="196.8" r="1.3"/><circle cx="334.4" cy="196.7" r="1.3"/><circle cx="335.4" cy="196.7" r="1.3"/><circle cx="336.4" cy="196.7" r="1.3"/><circle cx="337.4" cy="196.7" r="1.3"/><circle cx="338.4" cy="196.7" r="1.3"/><circle cx="339.4" cy="196.7" r="1.3"/><circle cx="340.4" cy="196.7" r="1.3"/><circle cx="341.4" cy="196.7" r="1.3"/><circle cx="342.4" cy="196.6" r="1.3"/><circle cx="343.4" cy="196.6" r="1.3"/><circle cx="344.4" cy="196.6" r="1.3"/><circle cx="345.4" cy="196.6" r="1.3"/><circle cx="346.4" cy="196.6" r="1.3"/><circle cx="347.4" cy="196.6" r="1.3"/><circle cx="348.4" cy="196.5" r="1.3"/><circle cx="349.4" cy="196.5" r="1.3"/><circle cx="350.4" cy="196.5" r="1.3"/><circle cx="351.4" cy="196.5" r="1.3"/><circle cx="352.4" cy="196.4" r="1.3"/><circle cx="353.4" cy="196.4" r="1.3"/><circle cx="354.4" cy="196.4" r="1.3"/><circle cx="355.4" cy="196.3" r="1.3"/><circle cx="356.4" cy="196.3" r="1.3"/><circle cx="357.4" cy="196.3" r="1.3"/><circle cx="358.4" cy="196.2" r="1.3"/><circle cx="359.4" cy="196.2" r="1.3"/><circle cx="360.4" cy="196.1" r="1.3"/><circle cx="361.4" cy="196.1" r="1.3"/><circle cx="362.4" cy="196" r="1.3"/><circle cx="363.4" cy="196" r="1.3"/><circle cx="364.4" cy="195.9" r="1.3"/><circle cx="365.4" cy="195.8" r="1.3"/><circle cx="366.4" cy="195.6" r="1.3"/><circle cx="367.4" cy="195.5" r="1.3"/><circle cx="368.4" cy="195.3" r="1.3"/><circle cx="369.4" cy="195.1" r="1.3"/><circle cx="370.4" cy="194.7" r="1.3"/><circle cx="371.4" cy="194.3" r="1.3"/><circle cx="372.4" cy="193.8" r="1.3"/><circle cx="373.4" cy="193.2" r="1.3"/><circle cx="374.4" cy="192.4" r="1.3"/><circle cx="375.4" cy="191.4" r="1.3"/><circle cx="376.4" cy="190.2" r="1.3"/><circle cx="377.4" cy="188.7" r="1.3"/><circle cx="378.4" cy="186.8" r="1.3"/><circle cx="379.4" cy="184.7" r="1.3"/><circle cx="380.4" cy="182.1" r="1.3"/><circle cx="381.4" cy="179" r="1.3"/><circle cx="382.4" cy="175.6" r="1.3"/><circle cx="383.4" cy="171.6" r="1.3"/><circle cx="384.4" cy="167.2" r="1.3"/><circle cx="385.4" cy="162.4" r="1.3"/><circle cx="386.4" cy="157.2" r="1.3"/><circle cx="387.4" cy="151.6" r="1.3"/><circle cx="388.4" cy="145.9" r="1.3"/><circle cx="389.4" cy="140" r="1.3"/><circle cx="390.4" cy="134.1" r="1.3"/><circle cx="391.4" cy="128.4" r="1.3"/><circle cx="392.4" cy="123" r="1.3"/><circle cx="393.4" cy="118.1" r="1.3"/><circle cx="394.4" cy="113.8" r="1.3"/><circle cx="395.4" cy="110.4" r="1.3"/><circle cx="396.4" cy="108" r="1.3"/><circle cx="397.4" cy="106.7" r="1.3"/><circle cx="398.4" cy="106.4" r="1.3"/><circle cx="399.4" cy="107.4" r="1.3"/><circle cx="400.4" cy="109.5" r="1.3"/><circle cx="401.4" cy="112.6" r="1.3"/><circle cx="402.4" cy="116.5" r="1.3"/><circle cx="403.4" cy="121.1" r="1.3"/><circle cx="404.4" cy="126.3" r="1.3"/><circle cx="405.4" cy="131.7" r="1.3"/><circle cx="406.4" cy="137.3" r="1.3"/><circle cx="407.4" cy="143" r="1.3"/><circle cx="408.4" cy="148.5" r="1.3"/><circle cx="409.4" cy="153.7" r="1.3"/><circle cx="410.4" cy="158.6" r="1.3"/><circle cx="411.4" cy="163.1" r="1.3"/><circle cx="412.4" cy="167.2" r="1.3"/><circle cx="413.4" cy="170.8" r="1.3"/><circle cx="414.4" cy="174" r="1.3"/><circle cx="415.4" cy="176.8" r="1.3"/><circle cx="416.4" cy="179.1" r="1.3"/><circle cx="417.4" cy="181" r="1.3"/><circle cx="418.4" cy="182.6" r="1.3"/><circle cx="419.4" cy="183.9" r="1.3"/><circle cx="420.4" cy="185" r="1.3"/><circle cx="421.4" cy="185.9" r="1.3"/><circle cx="422.4" cy="186.5" r="1.3"/><circle cx="423.4" cy="187" r="1.3"/><circle cx="424.4" cy="187.5" r="1.3"/><circle cx="425.4" cy="187.8" r="1.3"/><circle cx="426.4" cy="188" r="1.3"/><circle cx="427.4" cy="188.2" r="1.3"/><circle cx="428.4" cy="188.4" r="1.3"/><circle cx="429.4" cy="188.5" r="1.3"/><circle cx="430.4" cy="188.6" r="1.3"/><circle cx="431.4" cy="188.7" r="1.3"/><circle cx="432.4" cy="188.7" r="1.3"/><circle cx="433.4" cy="188.8" r="1.3"/><circle cx="434.4" cy="188.8" r="1.3"/><circle cx="435.4" cy="188.8" r="1.3"/><circle cx="436.4" cy="188.8" r="1.3"/><circle cx="437.4" cy="188.8" r="1.3"/><circle cx="438.4" cy="188.8" r="1.3"/><circle cx="439.4" cy="188.8" r="1.3"/><circle cx="440.4" cy="188.8" r="1.3"/><circle cx="441.4" cy="188.7" r="1.3"/><circle cx="442.4" cy="188.7" r="1.3"/><circle cx="443.4" cy="188.6" r="1.3"/><circle cx="444.4" cy="188.5" r="1.3"/><circle cx="445.4" cy="188.4" r="1.3"/><circle cx="446.4" cy="188.3" r="1.3"/><circle cx="447.4" cy="188.1" r="1.3"/><circle cx="448.4" cy="188" r="1.3"/><circle cx="449.4" cy="187.8" r="1.3"/><circle cx="450.4" cy="187.5" r="1.3"/><circle cx="451.4" cy="187.2" r="1.3"/><circle cx="452.4" cy="186.9" r="1.3"/><circle cx="453.4" cy="186.5" r="1.3"/><circle cx="454.4" cy="186.1" r="1.3"/><circle cx="455.4" cy="185.6" r="1.3"/><circle cx="456.4" cy="185.1" r="1.3"/><circle cx="457.4" cy="184.5" r="1.3"/><circle cx="458.4" cy="183.9" r="1.3"/><circle cx="459.4" cy="183.2" r="1.3"/><circle cx="460.4" cy="182.5" r="1.3"/><circle cx="461.4" cy="181.7" r="1.3"/><circle cx="462.4" cy="180.8" r="1.3"/><circle cx="463.4" cy="179.9" r="1.3"/><circle cx="464.4" cy="178.9" r="1.3"/><circle cx="465.4" cy="177.9" r="1.3"/><circle cx="466.4" cy="176.9" r="1.3"/><circle cx="467.4" cy="175.8" r="1.3"/><circle cx="468.4" cy="174.7" r="1.3"/><circle cx="469.4" cy="173.5" r="1.3"/><circle cx="470.4" cy="172.4" r="1.3"/><circle cx="471.4" cy="171.3" r="1.3"/><circle cx="472.4" cy="170.2" r="1.3"/><circle cx="473.4" cy="169.1" r="1.3"/><circle cx="474.4" cy="168.1" r="1.3"/><circle cx="475.4" cy="167.2" r="1.3"/><circle cx="476.4" cy="166.3" r="1.3"/><circle cx="477.4" cy="165.4" r="1.3"/><circle cx="478.4" cy="164.7" r="1.3"/><circle cx="479.4" cy="164.1" r="1.3"/><circle cx="480.4" cy="163.6" r="1.3"/><circle cx="481.4" cy="163.3" r="1.3"/><circle cx="482.4" cy="163" r="1.3"/><circle cx="483.4" cy="162.9" r="1.3"/><circle cx="484.4" cy="163" r="1.3"/><circle cx="485.4" cy="163.1" r="1.3"/><circle cx="486.4" cy="163.4" r="1.3"/><circle cx="487.4" cy="163.8" r="1.3"/><circle cx="488.4" cy="164.4" r="1.3"/><circle cx="489.4" cy="165" r="1.3"/><circle cx="490.4" cy="165.7" r="1.3"/><circle cx="491.4" cy="166.5" r="1.3"/><circle cx="492.4" cy="167.4" r="1.3"/><circle cx="493.4" cy="168.3" r="1.3"/><circle cx="494.4" cy="169.3" r="1.3"/><circle cx="495.4" cy="170.3" r="1.3"/><circle cx="496.4" cy="171.3" r="1.3"/><circle cx="497.4" cy="172.3" r="1.3"/><circle cx="498.4" cy="173.4" r="1.3"/><circle cx="499.4" cy="174.4" r="1.3"/><circle cx="500.4" cy="175.3" r="1.3"/><circle cx="501.4" cy="176.3" r="1.3"/><circle cx="502.4" cy="177.2" r="1.3"/><circle cx="503.4" cy="178.1" r="1.3"/><circle cx="504.4" cy="178.9" r="1.3"/><circle cx="505.4" cy="179.7" r="1.3"/><circle cx="506.4" cy="180.4" r="1.3"/><circle cx="507.4" cy="181.1" r="1.3"/><circle cx="508.4" cy="181.7" r="1.3"/><circle cx="509.4" cy="182.3" r="1.3"/><circle cx="510.4" cy="182.8" r="1.3"/><circle cx="511.4" cy="183.3" r="1.3"/><circle cx="512.4" cy="183.7" r="1.3"/><circle cx="513.4" cy="184.1" r="1.3"/><circle cx="514.4" cy="184.4" r="1.3"/><circle cx="515.4" cy="184.7" r="1.3"/><circle cx="516.4" cy="185" r="1.3"/><circle cx="517.4" cy="185.2" r="1.3"/><circle cx="518.4" cy="185.4" r="1.3"/><circle cx="519.4" cy="185.6" r="1.3"/><circle cx="520.4" cy="185.8" r="1.3"/><circle cx="521.4" cy="185.9" r="1.3"/><circle cx="522.4" cy="186" r="1.3"/><circle cx="523.4" cy="186.1" r="1.3"/><circle cx="524.4" cy="186.2" r="1.3"/><circle cx="525.4" cy="186.3" r="1.3"/><circle cx="526.4" cy="186.3" r="1.3"/><circle cx="527.4" cy="186.4" r="1.3"/><circle cx="528.4" cy="186.4" r="1.3"/><circle cx="529.4" cy="186.4" r="1.3"/><circle cx="530.4" cy="186.5" r="1.3"/><circle cx="531.4" cy="186.5" r="1.3"/><circle cx="532.4" cy="186.5" r="1.3"/><circle cx="533.4" cy="186.6" r="1.3"/><circle cx="534.4" cy="186.6" r="1.3"/><circle cx="535.4" cy="186.6" r="1.3"/><circle cx="536.4" cy="186.6" r="1.3"/><circle cx="537.4" cy="186.6" r="1.3"/><circle cx="538.4" cy="186.6" r="1.3"/><circle cx="539.4" cy="186.6" r="1.3"/><circle cx="540.4" cy="186.6" r="1.3"/><circle cx="541.4" cy="186.6" r="1.3"/><circle cx="541.9" cy="186.7" r="1.3"/></g></g>
<line x1="400.1" y1="19" x2="400.1" y2="98" stroke="#3a3a3a" stroke-width="1.35" stroke-dasharray="3.8,3.4"/>
<line x1="397.3" y1="81" x2="397.3" y2="160" stroke="#3a3a3a" stroke-width="1.35" stroke-dasharray="3.8,3.4"/>
<line x1="485.1" y1="53.6" x2="485.1" y2="126" stroke="#3a3a3a" stroke-width="1.35" stroke-dasharray="3.8,3.4"/>
<line x1="482.3" y1="110" x2="482.3" y2="183" stroke="#3a3a3a" stroke-width="1.35" stroke-dasharray="3.8,3.4"/>
<rect x="315.8" y="5.8" width="226.7" height="201.2" fill="none" stroke="#4a4a4a" stroke-width="1.2"/>
<line x1="315.8" y1="104.0" x2="542.5" y2="104.0" stroke="#333" stroke-width="1.6"/>
<rect x="319.7" y="10.200000000000001" width="22.5" height="16" fill="#1e1e1e"/><rect x="317.9" y="8.4" width="22.5" height="16" fill="#fff" stroke="#9a9a9a" stroke-width="0.6"/><text x="319.6" y="19.5" font-size="10" fill="#111" stroke="#111" stroke-width="0.25" text-anchor="start" >TiO<tspan font-size="7" dy="3">2</tspan></text>
<rect x="319.40000000000003" y="109.1" width="33.2" height="14.2" fill="#1e1e1e"/><rect x="317.6" y="107.3" width="33.2" height="14.2" fill="#fff" stroke="#9a9a9a" stroke-width="0.6"/><text x="319.2" y="118.1" font-size="10" fill="#111" stroke="#111" stroke-width="0.25" text-anchor="start" >B-TiO<tspan font-size="7" dy="3">2</tspan></text>
<text x="360.2" y="33.8" font-size="10.2" fill="#111" stroke="#111" stroke-width="0.25" text-anchor="start" >Ti 2p<tspan font-size="7.3" dy="3">3/2</tspan></text>
<text x="419" y="54" font-size="10.5" fill="#ff1010" stroke="#ff1010" stroke-width="0.25" text-anchor="start" >Ti<tspan font-size="8" dy="-4.6">4+</tspan></text>
<line x1="405.6" y1="56.4" x2="414.2" y2="52.5" stroke="#ff1010" stroke-width="1.0"/><polygon points="418,50.7 414.9,54.1 413.4,50.8" fill="#ff1010"/>
<text x="449" y="61.7" font-size="10.2" fill="#111" stroke="#111" stroke-width="0.25" text-anchor="start" >Ti 2p<tspan font-size="7.3" dy="3">1/2</tspan></text>
<text x="506" y="69.8" font-size="10.5" fill="#1010ee" stroke="#1010ee" stroke-width="0.25" text-anchor="start" >Ti<tspan font-size="8" dy="-4.6">4+</tspan></text>
<line x1="490" y1="75.5" x2="501.7" y2="68.9" stroke="#1010ee" stroke-width="1.0"/><polygon points="505.4,66.8 502.6,70.4 500.9,67.3" fill="#1010ee"/>
<text x="360.4" y="115.8" font-size="10.2" fill="#111" stroke="#111" stroke-width="0.25" text-anchor="start" >Ti 2p<tspan font-size="7.3" dy="3">3/2</tspan></text>
<text x="417.1" y="148.6" font-size="10.5" fill="#ff1010" stroke="#ff1010" stroke-width="0.25" text-anchor="start" >Ti<tspan font-size="8" dy="-4.6">4+</tspan></text>
<line x1="408.3" y1="151.6" x2="413.9" y2="147.6" stroke="#ff1010" stroke-width="1.0"/><polygon points="417.3,145.2 414.9,149.1 412.8,146.2" fill="#ff1010"/>
<text x="362" y="177.1" font-size="10.5" fill="#ff10ff" stroke="#ff10ff" stroke-width="0.25" text-anchor="start" >Ti<tspan font-size="8" dy="-4.6">3+</tspan></text>
<line x1="388.2" y1="181.7" x2="376.3" y2="176.9" stroke="#ff10ff" stroke-width="1.0"/><polygon points="372.4,175.3 377,175.2 375.6,178.5" fill="#ff10ff"/>
<text x="448" y="155.4" font-size="10.2" fill="#111" stroke="#111" stroke-width="0.25" text-anchor="start" >Ti 2p<tspan font-size="7.3" dy="3">1/2</tspan></text>
<text x="440.4" y="173" font-size="10.5" fill="#ff8a1e" stroke="#ff8a1e" stroke-width="0.25" text-anchor="start" >Ti<tspan font-size="8" dy="-4.6">3+</tspan></text>
<line x1="466" y1="182.8" x2="455.6" y2="176.4" stroke="#ff8a1e" stroke-width="1.0"/><polygon points="452,174.2 456.5,174.9 454.6,177.9" fill="#ff8a1e"/>
<text x="507.8" y="170.5" font-size="10.5" fill="#1010ee" stroke="#1010ee" stroke-width="0.25" text-anchor="start" >Ti<tspan font-size="8" dy="-4.6">4+</tspan></text>
<line x1="493.3" y1="176.2" x2="503.3" y2="170.4" stroke="#1010ee" stroke-width="1.0"/><polygon points="506.9,168.3 504.2,172 502.4,168.9" fill="#1010ee"/>
</svg></body></html>
